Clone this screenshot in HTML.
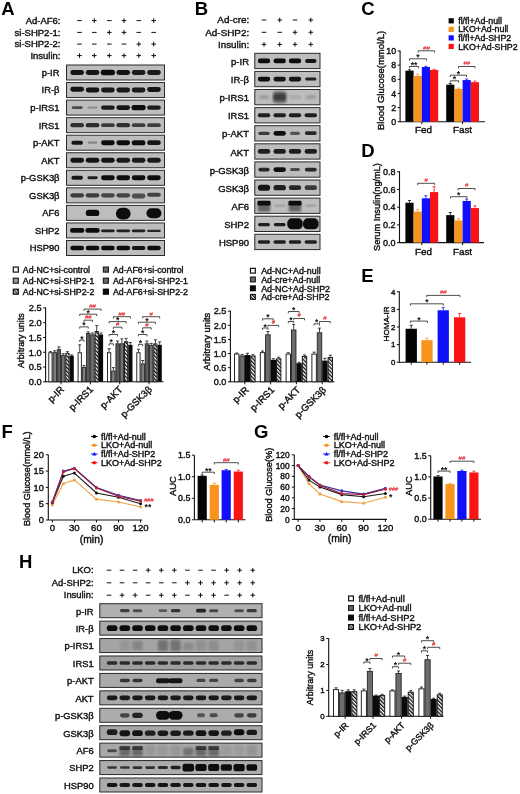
<!DOCTYPE html>
<html><head><meta charset="utf-8"><title>Figure</title>
<style>
html,body{margin:0;padding:0;background:#fff;}
body{width:520px;height:794px;overflow:hidden;position:relative;}
svg{position:absolute;left:0;top:0;display:block;}
text{font-family:"Liberation Sans", Arial, sans-serif;}
</style></head><body>
<svg width="520" height="794" viewBox="0 0 520 794">
<defs>
<filter id="bl" x="-50%" y="-80%" width="200%" height="260%"><feGaussianBlur stdDeviation="0.65"/></filter>
<filter id="bl2" x="-50%" y="-80%" width="200%" height="260%"><feGaussianBlur stdDeviation="1.3"/></filter>
<pattern id="hatch" patternUnits="userSpaceOnUse" width="2.7" height="2.7" patternTransform="rotate(-45)">
<rect width="2.7" height="2.7" fill="#fff"/><rect width="1.35" height="2.7" fill="#111"/></pattern>
<pattern id="hatch2" patternUnits="userSpaceOnUse" width="2.2" height="2.2" patternTransform="rotate(-45)">
<rect width="2.2" height="2.2" fill="#fff"/><rect width="1.1" height="2.2" fill="#111"/></pattern>
</defs>
<rect width="520" height="794" fill="#fff"/>
<text x="1.2" y="14.6" font-size="18.5" text-anchor="start" font-weight="bold" fill="#000" stroke="#000" stroke-width="0">A</text>
<text x="60.5" y="23.8" font-size="9.5" text-anchor="end" font-weight="normal" fill="#111" stroke="#111" stroke-width="0.4">Ad-AF6:</text>
<line x1="77.2" y1="20.6" x2="81.8" y2="20.6" stroke="#111" stroke-width="1"/>
<line x1="92" y1="20.6" x2="96.6" y2="20.6" stroke="#111" stroke-width="1"/>
<line x1="94.3" y1="18.3" x2="94.3" y2="22.9" stroke="#111" stroke-width="1"/>
<line x1="107" y1="20.6" x2="111.6" y2="20.6" stroke="#111" stroke-width="1"/>
<line x1="121.7" y1="20.6" x2="126.3" y2="20.6" stroke="#111" stroke-width="1"/>
<line x1="124" y1="18.3" x2="124" y2="22.9" stroke="#111" stroke-width="1"/>
<line x1="136.5" y1="20.6" x2="141.1" y2="20.6" stroke="#111" stroke-width="1"/>
<line x1="151.4" y1="20.6" x2="156" y2="20.6" stroke="#111" stroke-width="1"/>
<line x1="153.7" y1="18.3" x2="153.7" y2="22.9" stroke="#111" stroke-width="1"/>
<text x="60.5" y="35.6" font-size="9.5" text-anchor="end" font-weight="normal" fill="#111" stroke="#111" stroke-width="0.4">si-SHP2-1:</text>
<line x1="77.2" y1="32.4" x2="81.8" y2="32.4" stroke="#111" stroke-width="1"/>
<line x1="92" y1="32.4" x2="96.6" y2="32.4" stroke="#111" stroke-width="1"/>
<line x1="107" y1="32.4" x2="111.6" y2="32.4" stroke="#111" stroke-width="1"/>
<line x1="109.3" y1="30.1" x2="109.3" y2="34.7" stroke="#111" stroke-width="1"/>
<line x1="121.7" y1="32.4" x2="126.3" y2="32.4" stroke="#111" stroke-width="1"/>
<line x1="124" y1="30.1" x2="124" y2="34.7" stroke="#111" stroke-width="1"/>
<line x1="136.5" y1="32.4" x2="141.1" y2="32.4" stroke="#111" stroke-width="1"/>
<line x1="151.4" y1="32.4" x2="156" y2="32.4" stroke="#111" stroke-width="1"/>
<text x="60.5" y="47.3" font-size="9.5" text-anchor="end" font-weight="normal" fill="#111" stroke="#111" stroke-width="0.4">si-SHP2-2:</text>
<line x1="77.2" y1="44.1" x2="81.8" y2="44.1" stroke="#111" stroke-width="1"/>
<line x1="92" y1="44.1" x2="96.6" y2="44.1" stroke="#111" stroke-width="1"/>
<line x1="107" y1="44.1" x2="111.6" y2="44.1" stroke="#111" stroke-width="1"/>
<line x1="121.7" y1="44.1" x2="126.3" y2="44.1" stroke="#111" stroke-width="1"/>
<line x1="136.5" y1="44.1" x2="141.1" y2="44.1" stroke="#111" stroke-width="1"/>
<line x1="138.8" y1="41.8" x2="138.8" y2="46.4" stroke="#111" stroke-width="1"/>
<line x1="151.4" y1="44.1" x2="156" y2="44.1" stroke="#111" stroke-width="1"/>
<line x1="153.7" y1="41.8" x2="153.7" y2="46.4" stroke="#111" stroke-width="1"/>
<text x="60.5" y="58.8" font-size="9.5" text-anchor="end" font-weight="normal" fill="#111" stroke="#111" stroke-width="0.4">Insulin:</text>
<line x1="77.2" y1="55.6" x2="81.8" y2="55.6" stroke="#111" stroke-width="1"/>
<line x1="79.5" y1="53.3" x2="79.5" y2="57.9" stroke="#111" stroke-width="1"/>
<line x1="92" y1="55.6" x2="96.6" y2="55.6" stroke="#111" stroke-width="1"/>
<line x1="94.3" y1="53.3" x2="94.3" y2="57.9" stroke="#111" stroke-width="1"/>
<line x1="107" y1="55.6" x2="111.6" y2="55.6" stroke="#111" stroke-width="1"/>
<line x1="109.3" y1="53.3" x2="109.3" y2="57.9" stroke="#111" stroke-width="1"/>
<line x1="121.7" y1="55.6" x2="126.3" y2="55.6" stroke="#111" stroke-width="1"/>
<line x1="124" y1="53.3" x2="124" y2="57.9" stroke="#111" stroke-width="1"/>
<line x1="136.5" y1="55.6" x2="141.1" y2="55.6" stroke="#111" stroke-width="1"/>
<line x1="138.8" y1="53.3" x2="138.8" y2="57.9" stroke="#111" stroke-width="1"/>
<line x1="151.4" y1="55.6" x2="156" y2="55.6" stroke="#111" stroke-width="1"/>
<line x1="153.7" y1="53.3" x2="153.7" y2="57.9" stroke="#111" stroke-width="1"/>
<rect x="66.5" y="65" width="98" height="15" fill="#bdbdbd" stroke="#2a2a2a" stroke-width="1"/>
<rect x="70.4" y="70.05" width="13.6" height="4.9" rx="2.45" fill="#0a0a0a" opacity="0.95" filter="url(#bl)"/>
<rect x="85.75" y="70.05" width="13.6" height="4.9" rx="2.45" fill="#0a0a0a" opacity="0.95" filter="url(#bl)"/>
<rect x="100.76" y="69.81" width="14.28" height="5.39" rx="2.7" fill="#0a0a0a" opacity="1" filter="url(#bl)"/>
<rect x="116.45" y="70.05" width="13.6" height="4.9" rx="2.45" fill="#0a0a0a" opacity="0.95" filter="url(#bl)"/>
<rect x="131.8" y="70.05" width="13.6" height="4.9" rx="2.45" fill="#0a0a0a" opacity="0.92" filter="url(#bl)"/>
<rect x="147.15" y="70.05" width="13.6" height="4.9" rx="2.45" fill="#0a0a0a" opacity="0.92" filter="url(#bl)"/>
<text x="59.5" y="75.9" font-size="9.4" text-anchor="end" font-weight="normal" fill="#111" stroke="#111" stroke-width="0.4">p-IR</text>
<rect x="66.5" y="82.55" width="98" height="15" fill="#bdbdbd" stroke="#2a2a2a" stroke-width="1"/>
<rect x="70.4" y="86.8" width="13.6" height="4.9" rx="2.45" fill="#0a0a0a" opacity="0.95" filter="url(#bl)"/>
<rect x="85.75" y="87.6" width="13.6" height="4.9" rx="2.45" fill="#0a0a0a" opacity="0.95" filter="url(#bl)"/>
<rect x="101.1" y="87.6" width="13.6" height="4.9" rx="2.45" fill="#0a0a0a" opacity="0.92" filter="url(#bl)"/>
<rect x="116.45" y="87.6" width="13.6" height="4.9" rx="2.45" fill="#0a0a0a" opacity="0.92" filter="url(#bl)"/>
<rect x="131.8" y="87.6" width="13.6" height="4.9" rx="2.45" fill="#0a0a0a" opacity="0.92" filter="url(#bl)"/>
<rect x="147.15" y="87" width="13.6" height="4.9" rx="2.45" fill="#0a0a0a" opacity="0.95" filter="url(#bl)"/>
<text x="59.5" y="93.45" font-size="9.4" text-anchor="end" font-weight="normal" fill="#111" stroke="#111" stroke-width="0.4">IR-β</text>
<rect x="66.5" y="100.1" width="98" height="15" fill="#bdbdbd" stroke="#2a2a2a" stroke-width="1"/>
<rect x="71.76" y="106.25" width="10.88" height="2.7" rx="1.35" fill="#0a0a0a" opacity="0.65" filter="url(#bl)"/>
<rect x="87.45" y="106.5" width="10.2" height="2.21" rx="1.1" fill="#0a0a0a" opacity="0.25" filter="url(#bl)"/>
<rect x="101.1" y="105.39" width="13.6" height="4.41" rx="2.21" fill="#0a0a0a" opacity="0.92" filter="url(#bl)"/>
<rect x="116.45" y="105.27" width="13.6" height="4.66" rx="2.33" fill="#0a0a0a" opacity="0.95" filter="url(#bl)"/>
<rect x="131.46" y="105.03" width="14.28" height="5.15" rx="2.57" fill="#0a0a0a" opacity="1" filter="url(#bl)"/>
<rect x="147.15" y="105.39" width="13.6" height="4.41" rx="2.21" fill="#0a0a0a" opacity="0.92" filter="url(#bl)"/>
<text x="59.5" y="111" font-size="9.4" text-anchor="end" font-weight="normal" fill="#111" stroke="#111" stroke-width="0.4">p-IRS1</text>
<rect x="66.5" y="117.65" width="98" height="15" fill="#bdbdbd" stroke="#2a2a2a" stroke-width="1"/>
<rect x="70.4" y="123.07" width="13.6" height="4.17" rx="2.08" fill="#0a0a0a" opacity="0.8" filter="url(#bl)"/>
<rect x="85.75" y="122.95" width="13.6" height="4.41" rx="2.21" fill="#0a0a0a" opacity="0.82" filter="url(#bl)"/>
<rect x="101.1" y="123.19" width="13.6" height="3.92" rx="1.96" fill="#0a0a0a" opacity="0.75" filter="url(#bl)"/>
<rect x="116.45" y="123.07" width="13.6" height="4.17" rx="2.08" fill="#0a0a0a" opacity="0.8" filter="url(#bl)"/>
<rect x="131.8" y="123.19" width="13.6" height="3.92" rx="1.96" fill="#0a0a0a" opacity="0.72" filter="url(#bl)"/>
<rect x="147.15" y="123.19" width="13.6" height="3.92" rx="1.96" fill="#0a0a0a" opacity="0.72" filter="url(#bl)"/>
<text x="59.5" y="128.55" font-size="9.4" text-anchor="end" font-weight="normal" fill="#111" stroke="#111" stroke-width="0.4">IRS1</text>
<rect x="66.5" y="135.2" width="98" height="15" fill="#bdbdbd" stroke="#2a2a2a" stroke-width="1"/>
<rect x="71.42" y="140.74" width="11.56" height="3.92" rx="1.96" fill="#0a0a0a" opacity="0.95" filter="url(#bl)"/>
<rect x="87.79" y="141.6" width="9.52" height="2.21" rx="1.1" fill="#0a0a0a" opacity="0.3" filter="url(#bl)"/>
<rect x="101.1" y="140.25" width="13.6" height="4.9" rx="2.45" fill="#0a0a0a" opacity="1" filter="url(#bl)"/>
<rect x="116.45" y="140.25" width="13.6" height="4.9" rx="2.45" fill="#0a0a0a" opacity="1" filter="url(#bl)"/>
<rect x="131.8" y="140.13" width="13.6" height="5.15" rx="2.57" fill="#0a0a0a" opacity="1" filter="url(#bl)"/>
<rect x="147.15" y="140.37" width="13.6" height="4.66" rx="2.33" fill="#0a0a0a" opacity="0.95" filter="url(#bl)"/>
<text x="59.5" y="146.1" font-size="9.4" text-anchor="end" font-weight="normal" fill="#111" stroke="#111" stroke-width="0.4">p-AKT</text>
<rect x="66.5" y="152.75" width="98" height="15" fill="#bdbdbd" stroke="#2a2a2a" stroke-width="1"/>
<rect x="70.4" y="157.8" width="13.6" height="4.9" rx="2.45" fill="#0a0a0a" opacity="0.95" filter="url(#bl)"/>
<rect x="85.75" y="157.8" width="13.6" height="4.9" rx="2.45" fill="#0a0a0a" opacity="0.95" filter="url(#bl)"/>
<rect x="101.1" y="157.8" width="13.6" height="4.9" rx="2.45" fill="#0a0a0a" opacity="0.95" filter="url(#bl)"/>
<rect x="116.45" y="157.8" width="13.6" height="4.9" rx="2.45" fill="#0a0a0a" opacity="0.92" filter="url(#bl)"/>
<rect x="131.8" y="157.8" width="13.6" height="4.9" rx="2.45" fill="#0a0a0a" opacity="0.92" filter="url(#bl)"/>
<rect x="147.15" y="157.8" width="13.6" height="4.9" rx="2.45" fill="#0a0a0a" opacity="0.92" filter="url(#bl)"/>
<text x="59.5" y="163.65" font-size="9.4" text-anchor="end" font-weight="normal" fill="#111" stroke="#111" stroke-width="0.4">AKT</text>
<rect x="66.5" y="170.3" width="98" height="15" fill="#bdbdbd" stroke="#2a2a2a" stroke-width="1"/>
<rect x="71.42" y="175.84" width="11.56" height="3.92" rx="1.96" fill="#0a0a0a" opacity="0.95" filter="url(#bl)"/>
<rect x="87.45" y="176.33" width="10.2" height="2.94" rx="1.47" fill="#0a0a0a" opacity="0.9" filter="url(#bl)"/>
<rect x="101.1" y="175.35" width="13.6" height="4.9" rx="2.45" fill="#0a0a0a" opacity="1" filter="url(#bl)"/>
<rect x="116.45" y="175.35" width="13.6" height="4.9" rx="2.45" fill="#0a0a0a" opacity="1" filter="url(#bl)"/>
<rect x="131.8" y="175.35" width="13.6" height="4.9" rx="2.45" fill="#0a0a0a" opacity="1" filter="url(#bl)"/>
<rect x="147.15" y="175.35" width="13.6" height="4.9" rx="2.45" fill="#0a0a0a" opacity="1" filter="url(#bl)"/>
<text x="59.5" y="181.2" font-size="9.4" text-anchor="end" font-weight="normal" fill="#111" stroke="#111" stroke-width="0.4">p-GSK3β</text>
<rect x="66.5" y="187.85" width="98" height="15" fill="#bdbdbd" stroke="#2a2a2a" stroke-width="1"/>
<rect x="70.4" y="193.27" width="13.6" height="4.17" rx="2.08" fill="#0a0a0a" opacity="0.72" filter="url(#bl)"/>
<rect x="85.75" y="193.27" width="13.6" height="4.17" rx="2.08" fill="#0a0a0a" opacity="0.72" filter="url(#bl)"/>
<rect x="101.1" y="193.27" width="13.6" height="4.17" rx="2.08" fill="#0a0a0a" opacity="0.68" filter="url(#bl)"/>
<rect x="116.45" y="193.27" width="13.6" height="4.17" rx="2.08" fill="#0a0a0a" opacity="0.68" filter="url(#bl)"/>
<rect x="131.8" y="193.5" width="13.6" height="4.9" rx="2.45" fill="#0a0a0a" opacity="0.62" filter="url(#bl)"/>
<rect x="147.15" y="192.67" width="13.6" height="4.17" rx="2.08" fill="#0a0a0a" opacity="0.7" filter="url(#bl)"/>
<text x="59.5" y="198.75" font-size="9.4" text-anchor="end" font-weight="normal" fill="#111" stroke="#111" stroke-width="0.4">GSK3β</text>
<rect x="66.5" y="205.4" width="98" height="15" fill="#bdbdbd" stroke="#2a2a2a" stroke-width="1"/>
<rect x="85.75" y="209.72" width="13.6" height="6.37" rx="3.19" fill="#0a0a0a" opacity="1" filter="url(#bl)"/>
<rect x="115.91" y="207.82" width="14.69" height="11.76" rx="5.88" fill="#0a0a0a" opacity="1" filter="url(#bl)"/>
<rect x="146.47" y="208.18" width="14.96" height="10.04" rx="5.02" fill="#0a0a0a" opacity="1" filter="url(#bl)"/>
<text x="59.5" y="216.3" font-size="9.4" text-anchor="end" font-weight="normal" fill="#111" stroke="#111" stroke-width="0.4">AF6</text>
<rect x="66.5" y="222.95" width="98" height="15" fill="#bdbdbd" stroke="#2a2a2a" stroke-width="1"/>
<rect x="70.06" y="228.12" width="14.28" height="4.66" rx="2.33" fill="#0a0a0a" opacity="1" filter="url(#bl)"/>
<rect x="85.41" y="228.12" width="14.28" height="4.66" rx="2.33" fill="#0a0a0a" opacity="1" filter="url(#bl)"/>
<rect x="101.1" y="229.38" width="13.6" height="2.94" rx="1.47" fill="#0a0a0a" opacity="0.9" filter="url(#bl)"/>
<rect x="116.45" y="229.5" width="13.6" height="2.7" rx="1.35" fill="#0a0a0a" opacity="0.88" filter="url(#bl)"/>
<rect x="131.8" y="229.5" width="13.6" height="2.7" rx="1.35" fill="#0a0a0a" opacity="0.88" filter="url(#bl)"/>
<rect x="147.15" y="229.63" width="13.6" height="2.45" rx="1.23" fill="#0a0a0a" opacity="0.85" filter="url(#bl)"/>
<text x="59.5" y="233.85" font-size="9.4" text-anchor="end" font-weight="normal" fill="#111" stroke="#111" stroke-width="0.4">SHP2</text>
<rect x="66.5" y="240.5" width="98" height="15" fill="#bdbdbd" stroke="#2a2a2a" stroke-width="1"/>
<rect x="70.4" y="245.79" width="13.6" height="4.41" rx="2.21" fill="#0a0a0a" opacity="1" filter="url(#bl)"/>
<rect x="85.75" y="245.79" width="13.6" height="4.41" rx="2.21" fill="#0a0a0a" opacity="1" filter="url(#bl)"/>
<rect x="101.1" y="245.79" width="13.6" height="4.41" rx="2.21" fill="#0a0a0a" opacity="1" filter="url(#bl)"/>
<rect x="116.45" y="245.79" width="13.6" height="4.41" rx="2.21" fill="#0a0a0a" opacity="1" filter="url(#bl)"/>
<rect x="131.8" y="245.92" width="13.6" height="4.17" rx="2.08" fill="#0a0a0a" opacity="0.95" filter="url(#bl)"/>
<rect x="147.15" y="245.79" width="13.6" height="4.41" rx="2.21" fill="#0a0a0a" opacity="1" filter="url(#bl)"/>
<text x="59.5" y="251.4" font-size="9.4" text-anchor="end" font-weight="normal" fill="#111" stroke="#111" stroke-width="0.4">HSP90</text>
<rect x="13.3" y="267.1" width="5" height="5" fill="#fff" stroke="#111" stroke-width="1.2"/>
<text x="22.8" y="272.8" font-size="8.8" text-anchor="start" font-weight="normal" fill="#111" stroke="#111" stroke-width="0.4">Ad-NC+si-control</text>
<rect x="13.3" y="278.2" width="5" height="5" fill="#9a9a9a" stroke="#222" stroke-width="1.2"/>
<text x="22.8" y="283.9" font-size="8.8" text-anchor="start" font-weight="normal" fill="#111" stroke="#111" stroke-width="0.4">Ad-NC+si-SHP2-1</text>
<rect x="13.3" y="289.2" width="5" height="5" fill="url(#hatch2)" stroke="#111" stroke-width="1.2"/>
<text x="22.8" y="294.9" font-size="8.8" text-anchor="start" font-weight="normal" fill="#111" stroke="#111" stroke-width="0.4">Ad-NC+si-SHP2-2</text>
<rect x="103.4" y="267.1" width="5" height="5" fill="#6c6c6c" stroke="#222" stroke-width="1.2"/>
<text x="112.9" y="272.8" font-size="8.8" text-anchor="start" font-weight="normal" fill="#111" stroke="#111" stroke-width="0.4">Ad-AF6+si-control</text>
<rect x="103.4" y="278.2" width="5" height="5" fill="#6a6a6a" stroke="#222" stroke-width="1.2"/>
<text x="112.9" y="283.9" font-size="8.8" text-anchor="start" font-weight="normal" fill="#111" stroke="#111" stroke-width="0.4">Ad-AF6+si-SHP2-1</text>
<rect x="102.8" y="288.6" width="6.2" height="6.2" fill="#0a0a0a" stroke="none" stroke-width="1"/>
<text x="112.9" y="294.9" font-size="8.8" text-anchor="start" font-weight="normal" fill="#111" stroke="#111" stroke-width="0.4">Ad-AF6+si-SHP2-2</text>
<line x1="45.6" y1="382.3" x2="45.6" y2="307.4" stroke="#111" stroke-width="1.1"/>
<line x1="43.1" y1="381.8" x2="45.6" y2="381.8" stroke="#111" stroke-width="1"/>
<text x="41.6" y="385.13" font-size="9.25" text-anchor="end" font-weight="normal" fill="#111" stroke="#111" stroke-width="0.4">0.0</text>
<line x1="43.1" y1="367.02" x2="45.6" y2="367.02" stroke="#111" stroke-width="1"/>
<text x="41.6" y="370.35" font-size="9.25" text-anchor="end" font-weight="normal" fill="#111" stroke="#111" stroke-width="0.4">0.5</text>
<line x1="43.1" y1="352.24" x2="45.6" y2="352.24" stroke="#111" stroke-width="1"/>
<text x="41.6" y="355.57" font-size="9.25" text-anchor="end" font-weight="normal" fill="#111" stroke="#111" stroke-width="0.4">1.0</text>
<line x1="43.1" y1="337.46" x2="45.6" y2="337.46" stroke="#111" stroke-width="1"/>
<text x="41.6" y="340.79" font-size="9.25" text-anchor="end" font-weight="normal" fill="#111" stroke="#111" stroke-width="0.4">1.5</text>
<line x1="43.1" y1="322.68" x2="45.6" y2="322.68" stroke="#111" stroke-width="1"/>
<text x="41.6" y="326.01" font-size="9.25" text-anchor="end" font-weight="normal" fill="#111" stroke="#111" stroke-width="0.4">2.0</text>
<line x1="43.1" y1="307.9" x2="45.6" y2="307.9" stroke="#111" stroke-width="1"/>
<text x="41.6" y="311.23" font-size="9.25" text-anchor="end" font-weight="normal" fill="#111" stroke="#111" stroke-width="0.4">2.5</text>
<line x1="45.6" y1="381.8" x2="163.5" y2="381.8" stroke="#111" stroke-width="1.1"/>
<text x="24" y="340.7" font-size="8.9" text-anchor="middle" font-weight="normal" fill="#111" stroke="#111" stroke-width="0.4" transform="rotate(-90 24 340.7)">Arbitrary units</text>
<line x1="50.42" y1="352.24" x2="50.42" y2="351.65" stroke="#111" stroke-width="0.8"/>
<line x1="48.92" y1="351.65" x2="51.92" y2="351.65" stroke="#111" stroke-width="0.8"/>
<rect x="48.8" y="352.74" width="3.25" height="29.06" fill="#fff" stroke="#111" stroke-width="0.9"/>
<line x1="54.67" y1="352.24" x2="54.67" y2="350.76" stroke="#111" stroke-width="0.8"/>
<line x1="53.17" y1="350.76" x2="56.17" y2="350.76" stroke="#111" stroke-width="0.8"/>
<rect x="52.95" y="352.64" width="3.45" height="29.16" fill="#7c7c7c" stroke="#1a1a1a" stroke-width="0.8"/>
<line x1="58.92" y1="349.28" x2="58.92" y2="346.92" stroke="#111" stroke-width="0.8"/>
<line x1="57.42" y1="346.92" x2="60.42" y2="346.92" stroke="#111" stroke-width="0.8"/>
<rect x="57.2" y="349.68" width="3.45" height="32.12" fill="#5c5c5c" stroke="#1a1a1a" stroke-width="0.8"/>
<line x1="63.17" y1="355.2" x2="63.17" y2="353.72" stroke="#111" stroke-width="0.8"/>
<line x1="61.67" y1="353.72" x2="64.67" y2="353.72" stroke="#111" stroke-width="0.8"/>
<rect x="61.45" y="355.6" width="3.45" height="26.2" fill="#727272" stroke="#1a1a1a" stroke-width="0.8"/>
<line x1="67.42" y1="352.83" x2="67.42" y2="351.65" stroke="#111" stroke-width="0.8"/>
<line x1="65.92" y1="351.65" x2="68.92" y2="351.65" stroke="#111" stroke-width="0.8"/>
<rect x="65.8" y="353.33" width="3.25" height="28.47" fill="url(#hatch)" stroke="#111" stroke-width="0.9"/>
<line x1="71.67" y1="355.79" x2="71.67" y2="354.9" stroke="#111" stroke-width="0.8"/>
<line x1="70.17" y1="354.9" x2="73.17" y2="354.9" stroke="#111" stroke-width="0.8"/>
<rect x="69.55" y="355.79" width="4.25" height="26.01" fill="#0a0a0a" stroke="none" stroke-width="1"/>
<line x1="61.05" y1="381.8" x2="61.05" y2="384.3" stroke="#111" stroke-width="1"/>
<line x1="79.72" y1="352.24" x2="79.72" y2="344.85" stroke="#111" stroke-width="0.8"/>
<line x1="78.22" y1="344.85" x2="81.22" y2="344.85" stroke="#111" stroke-width="0.8"/>
<rect x="78.1" y="352.74" width="3.25" height="29.06" fill="#fff" stroke="#111" stroke-width="0.9"/>
<line x1="83.97" y1="367.02" x2="83.97" y2="365.54" stroke="#111" stroke-width="0.8"/>
<line x1="82.47" y1="365.54" x2="85.47" y2="365.54" stroke="#111" stroke-width="0.8"/>
<rect x="82.25" y="367.42" width="3.45" height="14.38" fill="#7c7c7c" stroke="#1a1a1a" stroke-width="0.8"/>
<line x1="88.22" y1="333.03" x2="88.22" y2="331.84" stroke="#111" stroke-width="0.8"/>
<line x1="86.72" y1="331.84" x2="89.72" y2="331.84" stroke="#111" stroke-width="0.8"/>
<rect x="86.5" y="333.43" width="3.45" height="48.37" fill="#5c5c5c" stroke="#1a1a1a" stroke-width="0.8"/>
<line x1="92.47" y1="334.5" x2="92.47" y2="333.03" stroke="#111" stroke-width="0.8"/>
<line x1="90.97" y1="333.03" x2="93.97" y2="333.03" stroke="#111" stroke-width="0.8"/>
<rect x="90.75" y="334.9" width="3.45" height="46.9" fill="#727272" stroke="#1a1a1a" stroke-width="0.8"/>
<line x1="96.72" y1="330.96" x2="96.72" y2="325.64" stroke="#111" stroke-width="0.8"/>
<line x1="95.22" y1="325.64" x2="98.22" y2="325.64" stroke="#111" stroke-width="0.8"/>
<rect x="95.1" y="331.46" width="3.25" height="50.34" fill="url(#hatch)" stroke="#111" stroke-width="0.9"/>
<line x1="100.97" y1="334.5" x2="100.97" y2="333.03" stroke="#111" stroke-width="0.8"/>
<line x1="99.47" y1="333.03" x2="102.47" y2="333.03" stroke="#111" stroke-width="0.8"/>
<rect x="98.85" y="334.5" width="4.25" height="47.3" fill="#0a0a0a" stroke="none" stroke-width="1"/>
<line x1="90.35" y1="381.8" x2="90.35" y2="384.3" stroke="#111" stroke-width="1"/>
<line x1="109.12" y1="352.24" x2="109.12" y2="348.69" stroke="#111" stroke-width="0.8"/>
<line x1="107.62" y1="348.69" x2="110.62" y2="348.69" stroke="#111" stroke-width="0.8"/>
<rect x="107.5" y="352.74" width="3.25" height="29.06" fill="#fff" stroke="#111" stroke-width="0.9"/>
<line x1="113.38" y1="370.57" x2="113.38" y2="367.61" stroke="#111" stroke-width="0.8"/>
<line x1="111.88" y1="367.61" x2="114.88" y2="367.61" stroke="#111" stroke-width="0.8"/>
<rect x="111.65" y="370.97" width="3.45" height="10.83" fill="#7c7c7c" stroke="#1a1a1a" stroke-width="0.8"/>
<line x1="117.62" y1="343.37" x2="117.62" y2="341.01" stroke="#111" stroke-width="0.8"/>
<line x1="116.12" y1="341.01" x2="119.12" y2="341.01" stroke="#111" stroke-width="0.8"/>
<rect x="115.9" y="343.77" width="3.45" height="38.03" fill="#5c5c5c" stroke="#1a1a1a" stroke-width="0.8"/>
<line x1="121.88" y1="343.37" x2="121.88" y2="338.94" stroke="#111" stroke-width="0.8"/>
<line x1="120.38" y1="338.94" x2="123.38" y2="338.94" stroke="#111" stroke-width="0.8"/>
<rect x="120.15" y="343.77" width="3.45" height="38.03" fill="#727272" stroke="#1a1a1a" stroke-width="0.8"/>
<line x1="126.12" y1="341.3" x2="126.12" y2="338.35" stroke="#111" stroke-width="0.8"/>
<line x1="124.62" y1="338.35" x2="127.62" y2="338.35" stroke="#111" stroke-width="0.8"/>
<rect x="124.5" y="341.8" width="3.25" height="40" fill="url(#hatch)" stroke="#111" stroke-width="0.9"/>
<line x1="130.38" y1="344.85" x2="130.38" y2="342.49" stroke="#111" stroke-width="0.8"/>
<line x1="128.88" y1="342.49" x2="131.88" y2="342.49" stroke="#111" stroke-width="0.8"/>
<rect x="128.25" y="344.85" width="4.25" height="36.95" fill="#0a0a0a" stroke="none" stroke-width="1"/>
<line x1="119.75" y1="381.8" x2="119.75" y2="384.3" stroke="#111" stroke-width="1"/>
<line x1="138.43" y1="352.24" x2="138.43" y2="349.28" stroke="#111" stroke-width="0.8"/>
<line x1="136.93" y1="349.28" x2="139.93" y2="349.28" stroke="#111" stroke-width="0.8"/>
<rect x="136.8" y="352.74" width="3.25" height="29.06" fill="#fff" stroke="#111" stroke-width="0.9"/>
<line x1="142.68" y1="363.47" x2="142.68" y2="360.52" stroke="#111" stroke-width="0.8"/>
<line x1="141.18" y1="360.52" x2="144.18" y2="360.52" stroke="#111" stroke-width="0.8"/>
<rect x="140.95" y="363.87" width="3.45" height="17.93" fill="#7c7c7c" stroke="#1a1a1a" stroke-width="0.8"/>
<line x1="146.93" y1="343.37" x2="146.93" y2="341.01" stroke="#111" stroke-width="0.8"/>
<line x1="145.43" y1="341.01" x2="148.43" y2="341.01" stroke="#111" stroke-width="0.8"/>
<rect x="145.2" y="343.77" width="3.45" height="38.03" fill="#5c5c5c" stroke="#1a1a1a" stroke-width="0.8"/>
<line x1="151.18" y1="344.85" x2="151.18" y2="343.37" stroke="#111" stroke-width="0.8"/>
<line x1="149.68" y1="343.37" x2="152.68" y2="343.37" stroke="#111" stroke-width="0.8"/>
<rect x="149.45" y="345.25" width="3.45" height="36.55" fill="#727272" stroke="#1a1a1a" stroke-width="0.8"/>
<line x1="155.43" y1="343.37" x2="155.43" y2="339.82" stroke="#111" stroke-width="0.8"/>
<line x1="153.93" y1="339.82" x2="156.93" y2="339.82" stroke="#111" stroke-width="0.8"/>
<rect x="153.8" y="343.87" width="3.25" height="37.93" fill="url(#hatch)" stroke="#111" stroke-width="0.9"/>
<line x1="159.68" y1="344.85" x2="159.68" y2="341.89" stroke="#111" stroke-width="0.8"/>
<line x1="158.18" y1="341.89" x2="161.18" y2="341.89" stroke="#111" stroke-width="0.8"/>
<rect x="157.55" y="344.85" width="4.25" height="36.95" fill="#0a0a0a" stroke="none" stroke-width="1"/>
<line x1="149.05" y1="381.8" x2="149.05" y2="384.3" stroke="#111" stroke-width="1"/>
<text x="64.55" y="390.1" font-size="9.6" text-anchor="end" font-weight="normal" fill="#111" stroke="#111" stroke-width="0.4" transform="rotate(-45 64.55 390.1)">p-IR</text>
<text x="93.85" y="390.1" font-size="9.6" text-anchor="end" font-weight="normal" fill="#111" stroke="#111" stroke-width="0.4" transform="rotate(-45 93.85 390.1)">p-IRS1</text>
<text x="123.25" y="390.1" font-size="9.6" text-anchor="end" font-weight="normal" fill="#111" stroke="#111" stroke-width="0.4" transform="rotate(-45 123.25 390.1)">p-AKT</text>
<text x="152.55" y="390.1" font-size="9.6" text-anchor="end" font-weight="normal" fill="#111" stroke="#111" stroke-width="0.4" transform="rotate(-45 152.55 390.1)">p-GSK3β</text>
<path d="M79.72 341.8 V340 H83.97 V341.8" stroke="#222" stroke-width="0.8" fill="none"/>
<text x="81.85" y="341.5" font-size="8.6" text-anchor="middle" font-weight="bold" fill="#111" stroke="#111" stroke-width="0">*</text>
<path d="M79.72 328.7 V326.9 H88.22 V328.7" stroke="#222" stroke-width="0.8" fill="none"/>
<text x="83.97" y="328.4" font-size="8.6" text-anchor="middle" font-weight="bold" fill="#111" stroke="#111" stroke-width="0">*</text>
<path d="M83.97 322 V320.2 H92.47 V322" stroke="#222" stroke-width="0.8" fill="none"/>
<text x="88.22" y="319" font-size="6" text-anchor="middle" font-weight="normal" fill="#e8383c" stroke="#e8383c" stroke-width="0.15">##</text>
<path d="M79.72 316 V314.2 H96.72 V316" stroke="#222" stroke-width="0.8" fill="none"/>
<text x="88.22" y="315.7" font-size="8.6" text-anchor="middle" font-weight="bold" fill="#111" stroke="#111" stroke-width="0">*</text>
<path d="M83.97 310.9 V309.1 H100.97 V310.9" stroke="#222" stroke-width="0.8" fill="none"/>
<text x="92.47" y="307.9" font-size="6" text-anchor="middle" font-weight="normal" fill="#e8383c" stroke="#e8383c" stroke-width="0.15">##</text>
<path d="M109.12 345.6 V343.8 H113.38 V345.6" stroke="#222" stroke-width="0.8" fill="none"/>
<text x="111.25" y="345.3" font-size="8.6" text-anchor="middle" font-weight="bold" fill="#111" stroke="#111" stroke-width="0">*</text>
<path d="M109.12 336.3 V334.5 H117.62 V336.3" stroke="#222" stroke-width="0.8" fill="none"/>
<text x="113.38" y="336" font-size="8.6" text-anchor="middle" font-weight="bold" fill="#111" stroke="#111" stroke-width="0">*</text>
<path d="M113.38 329 V327.2 H121.88 V329" stroke="#222" stroke-width="0.8" fill="none"/>
<text x="117.62" y="326" font-size="6" text-anchor="middle" font-weight="normal" fill="#e8383c" stroke="#e8383c" stroke-width="0.15">#</text>
<path d="M109.12 323.4 V321.6 H126.12 V323.4" stroke="#222" stroke-width="0.8" fill="none"/>
<text x="117.62" y="323.1" font-size="8.6" text-anchor="middle" font-weight="bold" fill="#111" stroke="#111" stroke-width="0">*</text>
<path d="M113.38 318.5 V316.7 H130.38 V318.5" stroke="#222" stroke-width="0.8" fill="none"/>
<text x="121.88" y="315.5" font-size="6" text-anchor="middle" font-weight="normal" fill="#e8383c" stroke="#e8383c" stroke-width="0.15">##</text>
<path d="M138.43 346.2 V344.4 H142.68 V346.2" stroke="#222" stroke-width="0.8" fill="none"/>
<text x="140.55" y="345.9" font-size="8.6" text-anchor="middle" font-weight="bold" fill="#111" stroke="#111" stroke-width="0">*</text>
<path d="M138.43 336.3 V334.5 H146.93 V336.3" stroke="#222" stroke-width="0.8" fill="none"/>
<text x="142.68" y="336" font-size="8.6" text-anchor="middle" font-weight="bold" fill="#111" stroke="#111" stroke-width="0">*</text>
<path d="M142.68 329.6 V327.8 H151.18 V329.6" stroke="#222" stroke-width="0.8" fill="none"/>
<text x="146.93" y="326.6" font-size="6" text-anchor="middle" font-weight="normal" fill="#e8383c" stroke="#e8383c" stroke-width="0.15">#</text>
<path d="M138.43 324 V322.2 H155.43 V324" stroke="#222" stroke-width="0.8" fill="none"/>
<text x="146.93" y="323.7" font-size="8.6" text-anchor="middle" font-weight="bold" fill="#111" stroke="#111" stroke-width="0">*</text>
<path d="M142.68 318.5 V316.7 H159.68 V318.5" stroke="#222" stroke-width="0.8" fill="none"/>
<text x="151.18" y="315.5" font-size="6" text-anchor="middle" font-weight="normal" fill="#e8383c" stroke="#e8383c" stroke-width="0.15">#</text>
<text x="194.8" y="14.6" font-size="18.5" text-anchor="start" font-weight="bold" fill="#000" stroke="#000" stroke-width="0">B</text>
<text x="249.2" y="23.2" font-size="9.9" text-anchor="end" font-weight="normal" fill="#111" stroke="#111" stroke-width="0.4">Ad-cre:</text>
<line x1="261.7" y1="20" x2="266.3" y2="20" stroke="#111" stroke-width="1"/>
<line x1="277.4" y1="20" x2="282" y2="20" stroke="#111" stroke-width="1"/>
<line x1="279.7" y1="17.7" x2="279.7" y2="22.3" stroke="#111" stroke-width="1"/>
<line x1="292.7" y1="20" x2="297.3" y2="20" stroke="#111" stroke-width="1"/>
<line x1="308.5" y1="20" x2="313.1" y2="20" stroke="#111" stroke-width="1"/>
<line x1="310.8" y1="17.7" x2="310.8" y2="22.3" stroke="#111" stroke-width="1"/>
<text x="249.2" y="35.5" font-size="9.9" text-anchor="end" font-weight="normal" fill="#111" stroke="#111" stroke-width="0.4">Ad-SHP2:</text>
<line x1="261.7" y1="32.3" x2="266.3" y2="32.3" stroke="#111" stroke-width="1"/>
<line x1="277.4" y1="32.3" x2="282" y2="32.3" stroke="#111" stroke-width="1"/>
<line x1="292.7" y1="32.3" x2="297.3" y2="32.3" stroke="#111" stroke-width="1"/>
<line x1="295" y1="30" x2="295" y2="34.6" stroke="#111" stroke-width="1"/>
<line x1="308.5" y1="32.3" x2="313.1" y2="32.3" stroke="#111" stroke-width="1"/>
<line x1="310.8" y1="30" x2="310.8" y2="34.6" stroke="#111" stroke-width="1"/>
<text x="249.2" y="47.6" font-size="9.9" text-anchor="end" font-weight="normal" fill="#111" stroke="#111" stroke-width="0.4">Insulin:</text>
<line x1="261.7" y1="44.4" x2="266.3" y2="44.4" stroke="#111" stroke-width="1"/>
<line x1="264" y1="42.1" x2="264" y2="46.7" stroke="#111" stroke-width="1"/>
<line x1="277.4" y1="44.4" x2="282" y2="44.4" stroke="#111" stroke-width="1"/>
<line x1="279.7" y1="42.1" x2="279.7" y2="46.7" stroke="#111" stroke-width="1"/>
<line x1="292.7" y1="44.4" x2="297.3" y2="44.4" stroke="#111" stroke-width="1"/>
<line x1="295" y1="42.1" x2="295" y2="46.7" stroke="#111" stroke-width="1"/>
<line x1="308.5" y1="44.4" x2="313.1" y2="44.4" stroke="#111" stroke-width="1"/>
<line x1="310.8" y1="42.1" x2="310.8" y2="46.7" stroke="#111" stroke-width="1"/>
<rect x="254.8" y="53.3" width="65.2" height="15.3" fill="#bdbdbd" stroke="#2a2a2a" stroke-width="1"/>
<rect x="257.8" y="58.55" width="12.4" height="4.8" rx="2.4" fill="#0a0a0a" opacity="1" filter="url(#bl)"/>
<rect x="273.5" y="58.55" width="12.4" height="4.8" rx="2.4" fill="#0a0a0a" opacity="1" filter="url(#bl)"/>
<rect x="288.8" y="58.55" width="12.4" height="4.8" rx="2.4" fill="#0a0a0a" opacity="1" filter="url(#bl)"/>
<rect x="305.1" y="58.91" width="11.41" height="4.08" rx="2.04" fill="#0a0a0a" opacity="0.95" filter="url(#bl)"/>
<text x="249" y="65.05" font-size="9.5" text-anchor="end" font-weight="normal" fill="#111" stroke="#111" stroke-width="0.4">p-IR</text>
<rect x="254.8" y="71.4" width="65.2" height="15.3" fill="#bdbdbd" stroke="#2a2a2a" stroke-width="1"/>
<rect x="257.8" y="76.65" width="12.4" height="4.8" rx="2.4" fill="#0a0a0a" opacity="1" filter="url(#bl)"/>
<rect x="273.5" y="76.65" width="12.4" height="4.8" rx="2.4" fill="#0a0a0a" opacity="0.95" filter="url(#bl)"/>
<rect x="288.8" y="76.65" width="12.4" height="4.8" rx="2.4" fill="#0a0a0a" opacity="0.95" filter="url(#bl)"/>
<rect x="305.22" y="77.49" width="11.16" height="3.12" rx="1.56" fill="#0a0a0a" opacity="0.88" filter="url(#bl)"/>
<text x="249" y="83.15" font-size="9.5" text-anchor="end" font-weight="normal" fill="#111" stroke="#111" stroke-width="0.4">IR-β</text>
<rect x="254.8" y="89.5" width="65.2" height="15.3" fill="#bdbdbd" stroke="#2a2a2a" stroke-width="1"/>
<rect x="259.04" y="95.47" width="9.92" height="3.36" rx="1.68" fill="#0a0a0a" opacity="0.22" filter="url(#bl2)"/>
<rect x="272.88" y="90.91" width="13.64" height="12.48" rx="3.12" fill="#0a0a0a" opacity="0.4" filter="url(#bl2)"/>
<rect x="273.5" y="93.55" width="12.4" height="7.2" rx="2.16" fill="#0a0a0a" opacity="0.55" filter="url(#bl2)"/>
<rect x="288.8" y="94.75" width="12.4" height="4.8" rx="2.4" fill="#0a0a0a" opacity="0.08" filter="url(#bl)"/>
<rect x="305.84" y="95.47" width="9.92" height="3.36" rx="1.68" fill="#0a0a0a" opacity="0.22" filter="url(#bl2)"/>
<text x="249" y="101.25" font-size="9.5" text-anchor="end" font-weight="normal" fill="#111" stroke="#111" stroke-width="0.4">p-IRS1</text>
<rect x="254.8" y="107.6" width="65.2" height="15.3" fill="#bdbdbd" stroke="#2a2a2a" stroke-width="1"/>
<rect x="257.8" y="113.21" width="12.4" height="4.08" rx="2.04" fill="#0a0a0a" opacity="0.9" filter="url(#bl)"/>
<rect x="273.5" y="113.21" width="12.4" height="4.08" rx="2.04" fill="#0a0a0a" opacity="0.9" filter="url(#bl)"/>
<rect x="288.8" y="113.21" width="12.4" height="4.08" rx="2.04" fill="#0a0a0a" opacity="0.9" filter="url(#bl)"/>
<rect x="304.6" y="113.21" width="12.4" height="4.08" rx="2.04" fill="#0a0a0a" opacity="0.9" filter="url(#bl)"/>
<text x="249" y="119.35" font-size="9.5" text-anchor="end" font-weight="normal" fill="#111" stroke="#111" stroke-width="0.4">IRS1</text>
<rect x="254.8" y="125.7" width="65.2" height="15.3" fill="#bdbdbd" stroke="#2a2a2a" stroke-width="1"/>
<rect x="258.42" y="131.79" width="11.16" height="3.12" rx="1.56" fill="#0a0a0a" opacity="0.75" filter="url(#bl)"/>
<rect x="273.5" y="130.95" width="12.4" height="4.8" rx="2.4" fill="#0a0a0a" opacity="1" filter="url(#bl)"/>
<rect x="290.04" y="131.79" width="9.92" height="3.12" rx="1.56" fill="#0a0a0a" opacity="0.6" filter="url(#bl)"/>
<rect x="304.91" y="131.13" width="11.78" height="3.84" rx="1.92" fill="#0a0a0a" opacity="0.85" filter="url(#bl)"/>
<text x="249" y="137.45" font-size="9.5" text-anchor="end" font-weight="normal" fill="#111" stroke="#111" stroke-width="0.4">p-AKT</text>
<rect x="254.8" y="143.8" width="65.2" height="15.3" fill="#bdbdbd" stroke="#2a2a2a" stroke-width="1"/>
<rect x="257.8" y="149.05" width="12.4" height="4.8" rx="2.4" fill="#0a0a0a" opacity="0.9" filter="url(#bl)"/>
<rect x="273.5" y="149.05" width="12.4" height="4.8" rx="2.4" fill="#0a0a0a" opacity="0.9" filter="url(#bl)"/>
<rect x="288.8" y="149.05" width="12.4" height="4.8" rx="2.4" fill="#0a0a0a" opacity="0.9" filter="url(#bl)"/>
<rect x="304.6" y="149.05" width="12.4" height="4.8" rx="2.4" fill="#0a0a0a" opacity="0.9" filter="url(#bl)"/>
<text x="249" y="155.55" font-size="9.5" text-anchor="end" font-weight="normal" fill="#111" stroke="#111" stroke-width="0.4">AKT</text>
<rect x="254.8" y="161.9" width="65.2" height="15.3" fill="#bdbdbd" stroke="#2a2a2a" stroke-width="1"/>
<rect x="258.42" y="167.63" width="11.16" height="3.84" rx="1.92" fill="#0a0a0a" opacity="0.85" filter="url(#bl)"/>
<rect x="273.5" y="167.15" width="12.4" height="4.8" rx="2.4" fill="#0a0a0a" opacity="1" filter="url(#bl)"/>
<rect x="290.04" y="167.99" width="9.92" height="3.12" rx="1.56" fill="#0a0a0a" opacity="0.65" filter="url(#bl)"/>
<rect x="304.91" y="167.63" width="11.78" height="3.84" rx="1.92" fill="#0a0a0a" opacity="0.85" filter="url(#bl)"/>
<text x="249" y="173.65" font-size="9.5" text-anchor="end" font-weight="normal" fill="#111" stroke="#111" stroke-width="0.4">p-GSK3β</text>
<rect x="254.8" y="180" width="65.2" height="15.3" fill="#bdbdbd" stroke="#2a2a2a" stroke-width="1"/>
<rect x="257.8" y="184.65" width="12.4" height="6" rx="3" fill="#0a0a0a" opacity="0.95" filter="url(#bl)"/>
<rect x="273.5" y="185.01" width="12.4" height="5.28" rx="2.64" fill="#0a0a0a" opacity="0.9" filter="url(#bl)"/>
<rect x="288.8" y="185.25" width="12.4" height="4.8" rx="2.4" fill="#0a0a0a" opacity="0.85" filter="url(#bl)"/>
<rect x="304.6" y="185.25" width="12.4" height="4.8" rx="2.4" fill="#0a0a0a" opacity="0.75" filter="url(#bl)"/>
<text x="249" y="191.75" font-size="9.5" text-anchor="end" font-weight="normal" fill="#111" stroke="#111" stroke-width="0.4">GSK3β</text>
<rect x="254.8" y="198.1" width="65.2" height="15.3" fill="#bdbdbd" stroke="#2a2a2a" stroke-width="1"/>
<rect x="257.49" y="200.75" width="13.02" height="4.8" rx="1.2" fill="#0a0a0a" opacity="1" filter="url(#bl)"/>
<rect x="257.8" y="203.03" width="12.4" height="8.64" rx="1.3" fill="#0a0a0a" opacity="0.5" filter="url(#bl2)"/>
<rect x="274.12" y="204.31" width="11.16" height="2.88" rx="1.44" fill="#0a0a0a" opacity="0.12" filter="url(#bl)"/>
<rect x="288.49" y="200.75" width="13.02" height="4.8" rx="1.2" fill="#0a0a0a" opacity="1" filter="url(#bl)"/>
<rect x="288.8" y="203.03" width="12.4" height="8.64" rx="1.3" fill="#0a0a0a" opacity="0.5" filter="url(#bl2)"/>
<rect x="305.22" y="204.31" width="11.16" height="2.88" rx="1.44" fill="#0a0a0a" opacity="0.12" filter="url(#bl)"/>
<text x="249" y="209.85" font-size="9.5" text-anchor="end" font-weight="normal" fill="#111" stroke="#111" stroke-width="0.4">AF6</text>
<rect x="254.8" y="216.2" width="65.2" height="15.3" fill="#bdbdbd" stroke="#2a2a2a" stroke-width="1"/>
<rect x="258.11" y="223.09" width="11.78" height="3.12" rx="1.56" fill="#0a0a0a" opacity="0.9" filter="url(#bl)"/>
<rect x="273.81" y="223.09" width="11.78" height="3.12" rx="1.56" fill="#0a0a0a" opacity="0.9" filter="url(#bl)"/>
<rect x="287.25" y="218.33" width="15.5" height="11.04" rx="4.69" fill="#0a0a0a" opacity="1" filter="url(#bl)"/>
<rect x="303.05" y="218.33" width="15.5" height="11.04" rx="4.69" fill="#0a0a0a" opacity="1" filter="url(#bl)"/>
<text x="249" y="227.95" font-size="9.5" text-anchor="end" font-weight="normal" fill="#111" stroke="#111" stroke-width="0.4">SHP2</text>
<rect x="254.8" y="234.3" width="65.2" height="15.3" fill="#bdbdbd" stroke="#2a2a2a" stroke-width="1"/>
<rect x="257.8" y="240.15" width="12.4" height="3.6" rx="1.8" fill="#0a0a0a" opacity="0.9" filter="url(#bl)"/>
<rect x="273.5" y="240.15" width="12.4" height="3.6" rx="1.8" fill="#0a0a0a" opacity="0.9" filter="url(#bl)"/>
<rect x="288.8" y="240.15" width="12.4" height="3.6" rx="1.8" fill="#0a0a0a" opacity="0.9" filter="url(#bl)"/>
<rect x="304.6" y="240.15" width="12.4" height="3.6" rx="1.8" fill="#0a0a0a" opacity="0.9" filter="url(#bl)"/>
<text x="249" y="246.05" font-size="9.5" text-anchor="end" font-weight="normal" fill="#111" stroke="#111" stroke-width="0.4">HSP90</text>
<rect x="250.5" y="268.3" width="4.8" height="4.8" fill="#fff" stroke="#111" stroke-width="1.2"/>
<text x="261.2" y="274" font-size="8.9" text-anchor="start" font-weight="normal" fill="#111" stroke="#111" stroke-width="0.4">Ad-NC+Ad-null</text>
<rect x="250.5" y="277.1" width="4.8" height="4.8" fill="#6c6c6c" stroke="#222" stroke-width="1.2"/>
<text x="261.2" y="282.8" font-size="8.9" text-anchor="start" font-weight="normal" fill="#111" stroke="#111" stroke-width="0.4">Ad-cre+Ad-null</text>
<rect x="249.9" y="285.3" width="6" height="6" fill="#0a0a0a" stroke="none" stroke-width="1"/>
<text x="261.2" y="291.6" font-size="8.9" text-anchor="start" font-weight="normal" fill="#111" stroke="#111" stroke-width="0.4">Ad-NC+Ad-SHP2</text>
<rect x="250.5" y="294.5" width="4.8" height="4.8" fill="url(#hatch2)" stroke="#111" stroke-width="1.2"/>
<text x="261.2" y="300.2" font-size="8.9" text-anchor="start" font-weight="normal" fill="#111" stroke="#111" stroke-width="0.4">Ad-cre+Ad-SHP2</text>
<line x1="230.4" y1="382.3" x2="230.4" y2="310.7" stroke="#111" stroke-width="1.1"/>
<line x1="227.9" y1="381.8" x2="230.4" y2="381.8" stroke="#111" stroke-width="1"/>
<text x="226.4" y="385.09" font-size="9.15" text-anchor="end" font-weight="normal" fill="#111" stroke="#111" stroke-width="0.4">0.0</text>
<line x1="227.9" y1="367.68" x2="230.4" y2="367.68" stroke="#111" stroke-width="1"/>
<text x="226.4" y="370.97" font-size="9.15" text-anchor="end" font-weight="normal" fill="#111" stroke="#111" stroke-width="0.4">0.5</text>
<line x1="227.9" y1="353.56" x2="230.4" y2="353.56" stroke="#111" stroke-width="1"/>
<text x="226.4" y="356.85" font-size="9.15" text-anchor="end" font-weight="normal" fill="#111" stroke="#111" stroke-width="0.4">1.0</text>
<line x1="227.9" y1="339.44" x2="230.4" y2="339.44" stroke="#111" stroke-width="1"/>
<text x="226.4" y="342.73" font-size="9.15" text-anchor="end" font-weight="normal" fill="#111" stroke="#111" stroke-width="0.4">1.5</text>
<line x1="227.9" y1="325.32" x2="230.4" y2="325.32" stroke="#111" stroke-width="1"/>
<text x="226.4" y="328.61" font-size="9.15" text-anchor="end" font-weight="normal" fill="#111" stroke="#111" stroke-width="0.4">2.0</text>
<line x1="227.9" y1="311.2" x2="230.4" y2="311.2" stroke="#111" stroke-width="1"/>
<text x="226.4" y="314.49" font-size="9.15" text-anchor="end" font-weight="normal" fill="#111" stroke="#111" stroke-width="0.4">2.5</text>
<line x1="230.4" y1="381.8" x2="334.5" y2="381.8" stroke="#111" stroke-width="1.1"/>
<text x="210.3" y="341.6" font-size="9.4" text-anchor="middle" font-weight="normal" fill="#111" stroke="#111" stroke-width="0.4" transform="rotate(-90 210.3 341.6)">Arbitrary units</text>
<line x1="236.7" y1="353.56" x2="236.7" y2="353" stroke="#111" stroke-width="0.8"/>
<line x1="235.2" y1="353" x2="238.2" y2="353" stroke="#111" stroke-width="0.8"/>
<rect x="234.5" y="354.06" width="4.4" height="27.74" fill="#fff" stroke="#111" stroke-width="0.9"/>
<line x1="242.1" y1="355.54" x2="242.1" y2="354.41" stroke="#111" stroke-width="0.8"/>
<line x1="240.6" y1="354.41" x2="243.6" y2="354.41" stroke="#111" stroke-width="0.8"/>
<rect x="239.8" y="355.94" width="4.6" height="25.86" fill="#6c6c6c" stroke="#1a1a1a" stroke-width="0.8"/>
<line x1="247.5" y1="354.97" x2="247.5" y2="353.28" stroke="#111" stroke-width="0.8"/>
<line x1="246" y1="353.28" x2="249" y2="353.28" stroke="#111" stroke-width="0.8"/>
<rect x="244.8" y="354.97" width="5.4" height="26.83" fill="#0a0a0a" stroke="none" stroke-width="1"/>
<line x1="252.9" y1="355.54" x2="252.9" y2="354.69" stroke="#111" stroke-width="0.8"/>
<line x1="251.4" y1="354.69" x2="254.4" y2="354.69" stroke="#111" stroke-width="0.8"/>
<rect x="250.7" y="356.04" width="4.4" height="25.76" fill="url(#hatch)" stroke="#111" stroke-width="0.9"/>
<line x1="244.8" y1="381.8" x2="244.8" y2="384.3" stroke="#111" stroke-width="1"/>
<line x1="262.5" y1="352.15" x2="262.5" y2="351.02" stroke="#111" stroke-width="0.8"/>
<line x1="261" y1="351.02" x2="264" y2="351.02" stroke="#111" stroke-width="0.8"/>
<rect x="260.3" y="352.65" width="4.4" height="29.15" fill="#fff" stroke="#111" stroke-width="0.9"/>
<line x1="267.9" y1="334.36" x2="267.9" y2="331.53" stroke="#111" stroke-width="0.8"/>
<line x1="266.4" y1="331.53" x2="269.4" y2="331.53" stroke="#111" stroke-width="0.8"/>
<rect x="265.6" y="334.76" width="4.6" height="47.04" fill="#6c6c6c" stroke="#1a1a1a" stroke-width="0.8"/>
<line x1="273.3" y1="359.77" x2="273.3" y2="358.64" stroke="#111" stroke-width="0.8"/>
<line x1="271.8" y1="358.64" x2="274.8" y2="358.64" stroke="#111" stroke-width="0.8"/>
<rect x="270.6" y="359.77" width="5.4" height="22.03" fill="#0a0a0a" stroke="none" stroke-width="1"/>
<line x1="278.7" y1="358.36" x2="278.7" y2="357.23" stroke="#111" stroke-width="0.8"/>
<line x1="277.2" y1="357.23" x2="280.2" y2="357.23" stroke="#111" stroke-width="0.8"/>
<rect x="276.5" y="358.86" width="4.4" height="22.94" fill="url(#hatch)" stroke="#111" stroke-width="0.9"/>
<line x1="270.6" y1="381.8" x2="270.6" y2="384.3" stroke="#111" stroke-width="1"/>
<line x1="288.3" y1="353.56" x2="288.3" y2="352.71" stroke="#111" stroke-width="0.8"/>
<line x1="286.8" y1="352.71" x2="289.8" y2="352.71" stroke="#111" stroke-width="0.8"/>
<rect x="286.1" y="354.06" width="4.4" height="27.74" fill="#fff" stroke="#111" stroke-width="0.9"/>
<line x1="293.7" y1="329.56" x2="293.7" y2="324.47" stroke="#111" stroke-width="0.8"/>
<line x1="292.2" y1="324.47" x2="295.2" y2="324.47" stroke="#111" stroke-width="0.8"/>
<rect x="291.4" y="329.96" width="4.6" height="51.84" fill="#6c6c6c" stroke="#1a1a1a" stroke-width="0.8"/>
<line x1="299.1" y1="363.16" x2="299.1" y2="362.31" stroke="#111" stroke-width="0.8"/>
<line x1="297.6" y1="362.31" x2="300.6" y2="362.31" stroke="#111" stroke-width="0.8"/>
<rect x="296.4" y="363.16" width="5.4" height="18.64" fill="#0a0a0a" stroke="none" stroke-width="1"/>
<line x1="304.5" y1="355.82" x2="304.5" y2="354.97" stroke="#111" stroke-width="0.8"/>
<line x1="303" y1="354.97" x2="306" y2="354.97" stroke="#111" stroke-width="0.8"/>
<rect x="302.3" y="356.32" width="4.4" height="25.48" fill="url(#hatch)" stroke="#111" stroke-width="0.9"/>
<line x1="296.4" y1="381.8" x2="296.4" y2="384.3" stroke="#111" stroke-width="1"/>
<line x1="314.1" y1="353.56" x2="314.1" y2="352.15" stroke="#111" stroke-width="0.8"/>
<line x1="312.6" y1="352.15" x2="315.6" y2="352.15" stroke="#111" stroke-width="0.8"/>
<rect x="311.9" y="354.06" width="4.4" height="27.74" fill="#fff" stroke="#111" stroke-width="0.9"/>
<line x1="319.5" y1="332.38" x2="319.5" y2="328.14" stroke="#111" stroke-width="0.8"/>
<line x1="318" y1="328.14" x2="321" y2="328.14" stroke="#111" stroke-width="0.8"/>
<rect x="317.2" y="332.78" width="4.6" height="49.02" fill="#6c6c6c" stroke="#1a1a1a" stroke-width="0.8"/>
<line x1="324.9" y1="360.62" x2="324.9" y2="358.36" stroke="#111" stroke-width="0.8"/>
<line x1="323.4" y1="358.36" x2="326.4" y2="358.36" stroke="#111" stroke-width="0.8"/>
<rect x="322.2" y="360.62" width="5.4" height="21.18" fill="#0a0a0a" stroke="none" stroke-width="1"/>
<line x1="330.3" y1="356.95" x2="330.3" y2="355.25" stroke="#111" stroke-width="0.8"/>
<line x1="328.8" y1="355.25" x2="331.8" y2="355.25" stroke="#111" stroke-width="0.8"/>
<rect x="328.1" y="357.45" width="4.4" height="24.35" fill="url(#hatch)" stroke="#111" stroke-width="0.9"/>
<line x1="322.2" y1="381.8" x2="322.2" y2="384.3" stroke="#111" stroke-width="1"/>
<text x="249.3" y="390.6" font-size="9.6" text-anchor="end" font-weight="normal" fill="#111" stroke="#111" stroke-width="0.4" transform="rotate(-45 249.3 390.6)">p-IR</text>
<text x="275.1" y="390.6" font-size="9.6" text-anchor="end" font-weight="normal" fill="#111" stroke="#111" stroke-width="0.4" transform="rotate(-45 275.1 390.6)">p-IRS1</text>
<text x="300.9" y="390.6" font-size="9.6" text-anchor="end" font-weight="normal" fill="#111" stroke="#111" stroke-width="0.4" transform="rotate(-45 300.9 390.6)">p-AKT</text>
<text x="326.7" y="390.6" font-size="9.6" text-anchor="end" font-weight="normal" fill="#111" stroke="#111" stroke-width="0.4" transform="rotate(-45 326.7 390.6)">p-GSK3β</text>
<path d="M262.5 329.8 V328 H267.9 V329.8" stroke="#222" stroke-width="0.8" fill="none"/>
<text x="265.2" y="329.5" font-size="8.6" text-anchor="middle" font-weight="bold" fill="#111" stroke="#111" stroke-width="0">*</text>
<path d="M267.9 327.2 V325.4 H278.7 V327.2" stroke="#222" stroke-width="0.8" fill="none"/>
<text x="273.3" y="324.2" font-size="6" text-anchor="middle" font-weight="normal" fill="#e8383c" stroke="#e8383c" stroke-width="0.15">#</text>
<path d="M262.5 320.6 V318.8 H273.3 V320.6" stroke="#222" stroke-width="0.8" fill="none"/>
<text x="267.9" y="320.3" font-size="8.6" text-anchor="middle" font-weight="bold" fill="#111" stroke="#111" stroke-width="0">*</text>
<path d="M288.3 323.3 V321.5 H293.7 V323.3" stroke="#222" stroke-width="0.8" fill="none"/>
<text x="291" y="323" font-size="8.6" text-anchor="middle" font-weight="bold" fill="#111" stroke="#111" stroke-width="0">*</text>
<path d="M293.7 320.3 V318.5 H304.5 V320.3" stroke="#222" stroke-width="0.8" fill="none"/>
<text x="299.1" y="317.3" font-size="6" text-anchor="middle" font-weight="normal" fill="#e8383c" stroke="#e8383c" stroke-width="0.15">#</text>
<path d="M288.3 313.3 V311.5 H299.1 V313.3" stroke="#222" stroke-width="0.8" fill="none"/>
<text x="293.7" y="313" font-size="8.6" text-anchor="middle" font-weight="bold" fill="#111" stroke="#111" stroke-width="0">*</text>
<path d="M314.1 325.6 V323.8 H319.5 V325.6" stroke="#222" stroke-width="0.8" fill="none"/>
<text x="316.8" y="325.3" font-size="8.6" text-anchor="middle" font-weight="bold" fill="#111" stroke="#111" stroke-width="0">*</text>
<path d="M319.5 323.3 V321.5 H330.3 V323.3" stroke="#222" stroke-width="0.8" fill="none"/>
<text x="324.9" y="320.3" font-size="6" text-anchor="middle" font-weight="normal" fill="#e8383c" stroke="#e8383c" stroke-width="0.15">#</text>
<text x="361.2" y="15" font-size="18.5" text-anchor="start" font-weight="bold" fill="#000" stroke="#000" stroke-width="0">C</text>
<rect x="448.6" y="18.2" width="5.2" height="5.2" fill="#050505" stroke="none" stroke-width="1"/>
<text x="458.2" y="23.9" font-size="8.8" text-anchor="start" font-weight="normal" fill="#111" stroke="#111" stroke-width="0.4">fl/fl+Ad-null</text>
<rect x="448.6" y="26.75" width="5.2" height="5.2" fill="#f7941e" stroke="none" stroke-width="1"/>
<text x="458.2" y="32.45" font-size="8.8" text-anchor="start" font-weight="normal" fill="#111" stroke="#111" stroke-width="0.4">LKO+Ad-null</text>
<rect x="448.6" y="35.3" width="5.2" height="5.2" fill="#1010fa" stroke="none" stroke-width="1"/>
<text x="458.2" y="41" font-size="8.8" text-anchor="start" font-weight="normal" fill="#111" stroke="#111" stroke-width="0.4">fl/fl+Ad-SHP2</text>
<rect x="448.6" y="43.85" width="5.2" height="5.2" fill="#f81414" stroke="none" stroke-width="1"/>
<text x="458.2" y="49.55" font-size="8.8" text-anchor="start" font-weight="normal" fill="#111" stroke="#111" stroke-width="0.4">LKO+Ad-SHP2</text>
<line x1="400.1" y1="122.2" x2="400.1" y2="50.5" stroke="#111" stroke-width="1.1"/>
<line x1="397.6" y1="121.7" x2="400.1" y2="121.7" stroke="#111" stroke-width="1"/>
<text x="396.1" y="124.87" font-size="8.8" text-anchor="end" font-weight="normal" fill="#111" stroke="#111" stroke-width="0.4">0</text>
<line x1="397.6" y1="107.56" x2="400.1" y2="107.56" stroke="#111" stroke-width="1"/>
<text x="396.1" y="110.73" font-size="8.8" text-anchor="end" font-weight="normal" fill="#111" stroke="#111" stroke-width="0.4">2</text>
<line x1="397.6" y1="93.42" x2="400.1" y2="93.42" stroke="#111" stroke-width="1"/>
<text x="396.1" y="96.59" font-size="8.8" text-anchor="end" font-weight="normal" fill="#111" stroke="#111" stroke-width="0.4">4</text>
<line x1="397.6" y1="79.28" x2="400.1" y2="79.28" stroke="#111" stroke-width="1"/>
<text x="396.1" y="82.45" font-size="8.8" text-anchor="end" font-weight="normal" fill="#111" stroke="#111" stroke-width="0.4">6</text>
<line x1="397.6" y1="65.14" x2="400.1" y2="65.14" stroke="#111" stroke-width="1"/>
<text x="396.1" y="68.31" font-size="8.8" text-anchor="end" font-weight="normal" fill="#111" stroke="#111" stroke-width="0.4">8</text>
<line x1="397.6" y1="51" x2="400.1" y2="51" stroke="#111" stroke-width="1"/>
<text x="396.1" y="54.17" font-size="8.8" text-anchor="end" font-weight="normal" fill="#111" stroke="#111" stroke-width="0.4">10</text>
<line x1="400.1" y1="121.7" x2="485" y2="121.7" stroke="#111" stroke-width="1.1"/>
<text x="384.5" y="80.4" font-size="9.5" text-anchor="middle" font-weight="normal" fill="#111" stroke="#111" stroke-width="0.4" transform="rotate(-90 384.5 80.4)">Blood Glucose(mmol/L)</text>
<line x1="409.5" y1="70.65" x2="409.5" y2="69.81" stroke="#050505" stroke-width="0.8"/>
<line x1="408" y1="69.81" x2="411" y2="69.81" stroke="#050505" stroke-width="0.8"/>
<rect x="405.4" y="70.65" width="8.2" height="51.05" fill="#050505" stroke="none" stroke-width="1"/>
<line x1="417.7" y1="75.89" x2="417.7" y2="74.12" stroke="#f7941e" stroke-width="0.8"/>
<line x1="416.2" y1="74.12" x2="419.2" y2="74.12" stroke="#f7941e" stroke-width="0.8"/>
<rect x="413.6" y="75.89" width="8.2" height="45.81" fill="#f7941e" stroke="none" stroke-width="1"/>
<line x1="425.9" y1="66.98" x2="425.9" y2="66.27" stroke="#1010fa" stroke-width="0.8"/>
<line x1="424.4" y1="66.27" x2="427.4" y2="66.27" stroke="#1010fa" stroke-width="0.8"/>
<rect x="421.8" y="66.98" width="8.2" height="54.72" fill="#1010fa" stroke="none" stroke-width="1"/>
<line x1="434.1" y1="69.95" x2="434.1" y2="69.24" stroke="#f81414" stroke-width="0.8"/>
<line x1="432.6" y1="69.24" x2="435.6" y2="69.24" stroke="#f81414" stroke-width="0.8"/>
<rect x="430" y="69.95" width="8.2" height="51.75" fill="#f81414" stroke="none" stroke-width="1"/>
<line x1="421.8" y1="121.7" x2="421.8" y2="124.2" stroke="#111" stroke-width="1"/>
<line x1="450.3" y1="84.65" x2="450.3" y2="83.59" stroke="#050505" stroke-width="0.8"/>
<line x1="448.8" y1="83.59" x2="451.8" y2="83.59" stroke="#050505" stroke-width="0.8"/>
<rect x="446.2" y="84.65" width="8.2" height="37.05" fill="#050505" stroke="none" stroke-width="1"/>
<line x1="458.5" y1="88.9" x2="458.5" y2="88.05" stroke="#f7941e" stroke-width="0.8"/>
<line x1="457" y1="88.05" x2="460" y2="88.05" stroke="#f7941e" stroke-width="0.8"/>
<rect x="454.4" y="88.9" width="8.2" height="32.8" fill="#f7941e" stroke="none" stroke-width="1"/>
<line x1="466.7" y1="80.06" x2="466.7" y2="79" stroke="#1010fa" stroke-width="0.8"/>
<line x1="465.2" y1="79" x2="468.2" y2="79" stroke="#1010fa" stroke-width="0.8"/>
<rect x="462.6" y="80.06" width="8.2" height="41.64" fill="#1010fa" stroke="none" stroke-width="1"/>
<line x1="474.9" y1="82.18" x2="474.9" y2="81.12" stroke="#f81414" stroke-width="0.8"/>
<line x1="473.4" y1="81.12" x2="476.4" y2="81.12" stroke="#f81414" stroke-width="0.8"/>
<rect x="470.8" y="82.18" width="8.2" height="39.52" fill="#f81414" stroke="none" stroke-width="1"/>
<line x1="462.6" y1="121.7" x2="462.6" y2="124.2" stroke="#111" stroke-width="1"/>
<text x="423.4" y="133.3" font-size="9.8" text-anchor="middle" font-weight="normal" fill="#111" stroke="#111" stroke-width="0.4">Fed</text>
<text x="462.5" y="133.3" font-size="9.8" text-anchor="middle" font-weight="normal" fill="#111" stroke="#111" stroke-width="0.4">Fast</text>
<path d="M409.5 68.3 V66.5 H418.5 V68.3" stroke="#222" stroke-width="0.8" fill="none"/>
<text x="414" y="68" font-size="8.6" text-anchor="middle" font-weight="bold" fill="#111" stroke="#111" stroke-width="0">**</text>
<path d="M409.5 60.6 V58.8 H426.5 V60.6" stroke="#222" stroke-width="0.8" fill="none"/>
<text x="418" y="60.3" font-size="8.6" text-anchor="middle" font-weight="bold" fill="#111" stroke="#111" stroke-width="0">*</text>
<path d="M418.2 52.6 V50.8 H434.6 V52.6" stroke="#222" stroke-width="0.8" fill="none"/>
<text x="426.4" y="49.6" font-size="6" text-anchor="middle" font-weight="normal" fill="#e8383c" stroke="#e8383c" stroke-width="0.15">##</text>
<path d="M450.3 82.6 V80.8 H458.5 V82.6" stroke="#222" stroke-width="0.8" fill="none"/>
<text x="454.4" y="82.3" font-size="8.6" text-anchor="middle" font-weight="bold" fill="#111" stroke="#111" stroke-width="0">*</text>
<path d="M450.3 77 V75.2 H466.5 V77" stroke="#222" stroke-width="0.8" fill="none"/>
<text x="458.4" y="76.7" font-size="8.6" text-anchor="middle" font-weight="bold" fill="#111" stroke="#111" stroke-width="0">*</text>
<path d="M458.5 68.3 V66.5 H475 V68.3" stroke="#222" stroke-width="0.8" fill="none"/>
<text x="466.75" y="65.3" font-size="6" text-anchor="middle" font-weight="normal" fill="#e8383c" stroke="#e8383c" stroke-width="0.15">##</text>
<text x="361.2" y="156.6" font-size="18.5" text-anchor="start" font-weight="bold" fill="#000" stroke="#000" stroke-width="0">D</text>
<line x1="399.5" y1="243.1" x2="399.5" y2="171.22" stroke="#111" stroke-width="1.1"/>
<line x1="397" y1="242.6" x2="399.5" y2="242.6" stroke="#111" stroke-width="1"/>
<text x="395.5" y="245.84" font-size="9" text-anchor="end" font-weight="normal" fill="#111" stroke="#111" stroke-width="0.4">0.0</text>
<line x1="397" y1="224.88" x2="399.5" y2="224.88" stroke="#111" stroke-width="1"/>
<text x="395.5" y="228.12" font-size="9" text-anchor="end" font-weight="normal" fill="#111" stroke="#111" stroke-width="0.4">0.2</text>
<line x1="397" y1="207.16" x2="399.5" y2="207.16" stroke="#111" stroke-width="1"/>
<text x="395.5" y="210.4" font-size="9" text-anchor="end" font-weight="normal" fill="#111" stroke="#111" stroke-width="0.4">0.4</text>
<line x1="397" y1="189.44" x2="399.5" y2="189.44" stroke="#111" stroke-width="1"/>
<text x="395.5" y="192.68" font-size="9" text-anchor="end" font-weight="normal" fill="#111" stroke="#111" stroke-width="0.4">0.6</text>
<line x1="397" y1="171.72" x2="399.5" y2="171.72" stroke="#111" stroke-width="1"/>
<text x="395.5" y="174.96" font-size="9" text-anchor="end" font-weight="normal" fill="#111" stroke="#111" stroke-width="0.4">0.8</text>
<line x1="399.5" y1="242.6" x2="484" y2="242.6" stroke="#111" stroke-width="1.1"/>
<text x="379.6" y="207" font-size="9.2" text-anchor="middle" font-weight="normal" fill="#111" stroke="#111" stroke-width="0.4" transform="rotate(-90 379.6 207)">Serum Insulin(ng/mL)</text>
<line x1="409.5" y1="202.73" x2="409.5" y2="200.51" stroke="#050505" stroke-width="0.8"/>
<line x1="408" y1="200.51" x2="411" y2="200.51" stroke="#050505" stroke-width="0.8"/>
<rect x="405.4" y="202.73" width="8.2" height="39.87" fill="#050505" stroke="none" stroke-width="1"/>
<line x1="417.7" y1="211.59" x2="417.7" y2="209.38" stroke="#f7941e" stroke-width="0.8"/>
<line x1="416.2" y1="209.38" x2="419.2" y2="209.38" stroke="#f7941e" stroke-width="0.8"/>
<rect x="413.6" y="211.59" width="8.2" height="31.01" fill="#f7941e" stroke="none" stroke-width="1"/>
<line x1="425.9" y1="198.3" x2="425.9" y2="195.64" stroke="#1010fa" stroke-width="0.8"/>
<line x1="424.4" y1="195.64" x2="427.4" y2="195.64" stroke="#1010fa" stroke-width="0.8"/>
<rect x="421.8" y="198.3" width="8.2" height="44.3" fill="#1010fa" stroke="none" stroke-width="1"/>
<line x1="434.1" y1="192.1" x2="434.1" y2="186.78" stroke="#f81414" stroke-width="0.8"/>
<line x1="432.6" y1="186.78" x2="435.6" y2="186.78" stroke="#f81414" stroke-width="0.8"/>
<rect x="430" y="192.1" width="8.2" height="50.5" fill="#f81414" stroke="none" stroke-width="1"/>
<line x1="421.8" y1="242.6" x2="421.8" y2="245.1" stroke="#111" stroke-width="1"/>
<line x1="450.3" y1="215.13" x2="450.3" y2="212.48" stroke="#050505" stroke-width="0.8"/>
<line x1="448.8" y1="212.48" x2="451.8" y2="212.48" stroke="#050505" stroke-width="0.8"/>
<rect x="446.2" y="215.13" width="8.2" height="27.47" fill="#050505" stroke="none" stroke-width="1"/>
<line x1="458.5" y1="220.45" x2="458.5" y2="218.68" stroke="#f7941e" stroke-width="0.8"/>
<line x1="457" y1="218.68" x2="460" y2="218.68" stroke="#f7941e" stroke-width="0.8"/>
<rect x="454.4" y="220.45" width="8.2" height="22.15" fill="#f7941e" stroke="none" stroke-width="1"/>
<line x1="466.7" y1="200.96" x2="466.7" y2="199.19" stroke="#1010fa" stroke-width="0.8"/>
<line x1="465.2" y1="199.19" x2="468.2" y2="199.19" stroke="#1010fa" stroke-width="0.8"/>
<rect x="462.6" y="200.96" width="8.2" height="41.64" fill="#1010fa" stroke="none" stroke-width="1"/>
<line x1="474.9" y1="208.05" x2="474.9" y2="205.83" stroke="#f81414" stroke-width="0.8"/>
<line x1="473.4" y1="205.83" x2="476.4" y2="205.83" stroke="#f81414" stroke-width="0.8"/>
<rect x="470.8" y="208.05" width="8.2" height="34.55" fill="#f81414" stroke="none" stroke-width="1"/>
<line x1="462.6" y1="242.6" x2="462.6" y2="245.1" stroke="#111" stroke-width="1"/>
<text x="423.4" y="254.5" font-size="9.8" text-anchor="middle" font-weight="normal" fill="#111" stroke="#111" stroke-width="0.4">Fed</text>
<text x="462.5" y="254.5" font-size="9.8" text-anchor="middle" font-weight="normal" fill="#111" stroke="#111" stroke-width="0.4">Fast</text>
<path d="M417.7 185.1 V183.3 H434.6 V185.1" stroke="#222" stroke-width="0.8" fill="none"/>
<text x="426.15" y="182.1" font-size="6" text-anchor="middle" font-weight="normal" fill="#e8383c" stroke="#e8383c" stroke-width="0.15">#</text>
<path d="M450.5 198.5 V196.7 H467 V198.5" stroke="#222" stroke-width="0.8" fill="none"/>
<text x="458.75" y="198.2" font-size="8.6" text-anchor="middle" font-weight="bold" fill="#111" stroke="#111" stroke-width="0">*</text>
<path d="M458.1 190.3 V188.5 H475 V190.3" stroke="#222" stroke-width="0.8" fill="none"/>
<text x="466.55" y="187.3" font-size="6" text-anchor="middle" font-weight="normal" fill="#e8383c" stroke="#e8383c" stroke-width="0.15">#</text>
<text x="361.2" y="281.8" font-size="18.5" text-anchor="start" font-weight="bold" fill="#000" stroke="#000" stroke-width="0">E</text>
<line x1="399.3" y1="362.7" x2="399.3" y2="291.3" stroke="#111" stroke-width="1.1"/>
<line x1="396.8" y1="362.2" x2="399.3" y2="362.2" stroke="#111" stroke-width="1"/>
<text x="395.3" y="365.01" font-size="7.8" text-anchor="end" font-weight="normal" fill="#111" stroke="#111" stroke-width="0.4">0</text>
<line x1="396.8" y1="344.6" x2="399.3" y2="344.6" stroke="#111" stroke-width="1"/>
<text x="395.3" y="347.41" font-size="7.8" text-anchor="end" font-weight="normal" fill="#111" stroke="#111" stroke-width="0.4">1</text>
<line x1="396.8" y1="327" x2="399.3" y2="327" stroke="#111" stroke-width="1"/>
<text x="395.3" y="329.81" font-size="7.8" text-anchor="end" font-weight="normal" fill="#111" stroke="#111" stroke-width="0.4">2</text>
<line x1="396.8" y1="309.4" x2="399.3" y2="309.4" stroke="#111" stroke-width="1"/>
<text x="395.3" y="312.21" font-size="7.8" text-anchor="end" font-weight="normal" fill="#111" stroke="#111" stroke-width="0.4">3</text>
<line x1="396.8" y1="291.8" x2="399.3" y2="291.8" stroke="#111" stroke-width="1"/>
<text x="395.3" y="294.61" font-size="7.8" text-anchor="end" font-weight="normal" fill="#111" stroke="#111" stroke-width="0.4">4</text>
<line x1="399.3" y1="362.2" x2="471" y2="362.2" stroke="#111" stroke-width="1.1"/>
<text x="389" y="323.9" font-size="8.1" text-anchor="middle" font-weight="normal" fill="#111" stroke="#111" stroke-width="0.4" transform="rotate(-90 389 323.9)">HOMA-IR</text>
<line x1="411.2" y1="328.76" x2="411.2" y2="325.24" stroke="#050505" stroke-width="0.8"/>
<line x1="409.7" y1="325.24" x2="412.7" y2="325.24" stroke="#050505" stroke-width="0.8"/>
<rect x="405.6" y="328.76" width="11.3" height="33.44" fill="#050505" stroke="none" stroke-width="1"/>
<line x1="411.2" y1="362.2" x2="411.2" y2="364.7" stroke="#111" stroke-width="1"/>
<line x1="426.9" y1="340.2" x2="426.9" y2="338.09" stroke="#f7941e" stroke-width="0.8"/>
<line x1="425.4" y1="338.09" x2="428.4" y2="338.09" stroke="#f7941e" stroke-width="0.8"/>
<rect x="421.3" y="340.2" width="11.3" height="22" fill="#f7941e" stroke="none" stroke-width="1"/>
<line x1="426.9" y1="362.2" x2="426.9" y2="364.7" stroke="#111" stroke-width="1"/>
<line x1="443.2" y1="310.28" x2="443.2" y2="307.64" stroke="#1010fa" stroke-width="0.8"/>
<line x1="441.7" y1="307.64" x2="444.7" y2="307.64" stroke="#1010fa" stroke-width="0.8"/>
<rect x="437.6" y="310.28" width="11.3" height="51.92" fill="#1010fa" stroke="none" stroke-width="1"/>
<line x1="443.2" y1="362.2" x2="443.2" y2="364.7" stroke="#111" stroke-width="1"/>
<line x1="459.6" y1="317.32" x2="459.6" y2="313.45" stroke="#f81414" stroke-width="0.8"/>
<line x1="458.1" y1="313.45" x2="461.1" y2="313.45" stroke="#f81414" stroke-width="0.8"/>
<rect x="454" y="317.32" width="11.3" height="44.88" fill="#f81414" stroke="none" stroke-width="1"/>
<line x1="459.6" y1="362.2" x2="459.6" y2="364.7" stroke="#111" stroke-width="1"/>
<path d="M410.4 322.9 V321.1 H427.4 V322.9" stroke="#222" stroke-width="0.8" fill="none"/>
<text x="418.9" y="322.6" font-size="8.6" text-anchor="middle" font-weight="bold" fill="#111" stroke="#111" stroke-width="0">*</text>
<path d="M410.4 305.6 V303.8 H443.3 V305.6" stroke="#222" stroke-width="0.8" fill="none"/>
<text x="426.85" y="305.3" font-size="8.6" text-anchor="middle" font-weight="bold" fill="#111" stroke="#111" stroke-width="0">*</text>
<path d="M426.7 297.2 V295.4 H459.9 V297.2" stroke="#222" stroke-width="0.8" fill="none"/>
<text x="443.3" y="294.2" font-size="6" text-anchor="middle" font-weight="normal" fill="#e8383c" stroke="#e8383c" stroke-width="0.15">##</text>
<text x="1.5" y="437.5" font-size="18.5" text-anchor="start" font-weight="bold" fill="#000" stroke="#000" stroke-width="0">F</text>
<text x="254" y="437.5" font-size="18.5" text-anchor="start" font-weight="bold" fill="#000" stroke="#000" stroke-width="0">G</text>
<line x1="91" y1="436.5" x2="97.6" y2="436.5" stroke="#050505" stroke-width="1"/>
<circle cx="94.3" cy="436.5" r="1.8" fill="#050505"/>
<text x="101.1" y="439.6" font-size="9" text-anchor="start" font-weight="normal" fill="#111" stroke="#111" stroke-width="0.4">fl/fl+Ad-null</text>
<line x1="91" y1="445.25" x2="97.6" y2="445.25" stroke="#f7941e" stroke-width="1"/>
<circle cx="94.3" cy="445.25" r="1.8" fill="#f7941e"/>
<text x="101.1" y="448.35" font-size="9" text-anchor="start" font-weight="normal" fill="#111" stroke="#111" stroke-width="0.4">LKO+Ad-null</text>
<line x1="91" y1="454" x2="97.6" y2="454" stroke="#1010fa" stroke-width="1"/>
<path d="M92.3 455.5 L96.3 455.5 L94.3 452 Z" stroke="none" stroke-width="1" fill="#1010fa"/>
<text x="101.1" y="457.1" font-size="9" text-anchor="start" font-weight="normal" fill="#111" stroke="#111" stroke-width="0.4">fl/fl+Ad-SHP2</text>
<line x1="91" y1="462.75" x2="97.6" y2="462.75" stroke="#f81414" stroke-width="1"/>
<circle cx="94.3" cy="462.75" r="1.8" fill="#f81414"/>
<text x="101.1" y="465.85" font-size="9" text-anchor="start" font-weight="normal" fill="#111" stroke="#111" stroke-width="0.4">LKO+Ad-SHP2</text>
<line x1="323.2" y1="436.5" x2="329.8" y2="436.5" stroke="#050505" stroke-width="1"/>
<circle cx="326.5" cy="436.5" r="1.8" fill="#050505"/>
<text x="333.7" y="439.6" font-size="9" text-anchor="start" font-weight="normal" fill="#111" stroke="#111" stroke-width="0.4">fl/fl+Ad-null</text>
<line x1="323.2" y1="445.25" x2="329.8" y2="445.25" stroke="#f7941e" stroke-width="1"/>
<circle cx="326.5" cy="445.25" r="1.8" fill="#f7941e"/>
<text x="333.7" y="448.35" font-size="9" text-anchor="start" font-weight="normal" fill="#111" stroke="#111" stroke-width="0.4">LKO+Ad-null</text>
<line x1="323.2" y1="454" x2="329.8" y2="454" stroke="#1010fa" stroke-width="1"/>
<path d="M324.5 455.5 L328.5 455.5 L326.5 452 Z" stroke="none" stroke-width="1" fill="#1010fa"/>
<text x="333.7" y="457.1" font-size="9" text-anchor="start" font-weight="normal" fill="#111" stroke="#111" stroke-width="0.4">fl/fl+Ad-SHP2</text>
<line x1="323.2" y1="462.75" x2="329.8" y2="462.75" stroke="#f81414" stroke-width="1"/>
<circle cx="326.5" cy="462.75" r="1.8" fill="#f81414"/>
<text x="333.7" y="465.85" font-size="9" text-anchor="start" font-weight="normal" fill="#111" stroke="#111" stroke-width="0.4">LKO+Ad-SHP2</text>
<line x1="48.3" y1="520" x2="48.3" y2="454.8" stroke="#111" stroke-width="1.1"/>
<line x1="48.3" y1="520" x2="142" y2="520" stroke="#111" stroke-width="1.1"/>
<line x1="45.8" y1="520" x2="48.3" y2="520" stroke="#111" stroke-width="1"/>
<text x="43.8" y="523.3" font-size="9.2" text-anchor="end" font-weight="normal" fill="#111" stroke="#111" stroke-width="0.4">0</text>
<line x1="45.8" y1="503.7" x2="48.3" y2="503.7" stroke="#111" stroke-width="1"/>
<text x="43.8" y="507" font-size="9.2" text-anchor="end" font-weight="normal" fill="#111" stroke="#111" stroke-width="0.4">5</text>
<line x1="45.8" y1="487.4" x2="48.3" y2="487.4" stroke="#111" stroke-width="1"/>
<text x="43.8" y="490.7" font-size="9.2" text-anchor="end" font-weight="normal" fill="#111" stroke="#111" stroke-width="0.4">10</text>
<line x1="45.8" y1="471.1" x2="48.3" y2="471.1" stroke="#111" stroke-width="1"/>
<text x="43.8" y="474.4" font-size="9.2" text-anchor="end" font-weight="normal" fill="#111" stroke="#111" stroke-width="0.4">15</text>
<line x1="45.8" y1="454.8" x2="48.3" y2="454.8" stroke="#111" stroke-width="1"/>
<text x="43.8" y="458.1" font-size="9.2" text-anchor="end" font-weight="normal" fill="#111" stroke="#111" stroke-width="0.4">20</text>
<line x1="52.3" y1="520" x2="52.3" y2="522.5" stroke="#111" stroke-width="1"/>
<text x="52.3" y="531.4" font-size="9.6" text-anchor="middle" font-weight="normal" fill="#111" stroke="#111" stroke-width="0.4">0</text>
<line x1="74.38" y1="520" x2="74.38" y2="522.5" stroke="#111" stroke-width="1"/>
<text x="74.38" y="531.4" font-size="9.6" text-anchor="middle" font-weight="normal" fill="#111" stroke="#111" stroke-width="0.4">30</text>
<line x1="96.45" y1="520" x2="96.45" y2="522.5" stroke="#111" stroke-width="1"/>
<text x="96.45" y="531.4" font-size="9.6" text-anchor="middle" font-weight="normal" fill="#111" stroke="#111" stroke-width="0.4">60</text>
<line x1="118.52" y1="520" x2="118.52" y2="522.5" stroke="#111" stroke-width="1"/>
<text x="118.52" y="531.4" font-size="9.6" text-anchor="middle" font-weight="normal" fill="#111" stroke="#111" stroke-width="0.4">90</text>
<line x1="140.6" y1="520" x2="140.6" y2="522.5" stroke="#111" stroke-width="1"/>
<text x="140.6" y="531.4" font-size="9.6" text-anchor="middle" font-weight="normal" fill="#111" stroke="#111" stroke-width="0.4">120</text>
<text x="91.6" y="542.8" font-size="10.3" text-anchor="middle" font-weight="normal" fill="#111" stroke="#111" stroke-width="0.4">(min)</text>
<text x="30.2" y="478.7" font-size="9.05" text-anchor="middle" font-weight="normal" fill="#111" stroke="#111" stroke-width="0.4" transform="rotate(-90 30.2 478.7)">Blood Glucose(mmol/L)</text>
<polyline points="52.3,505 63.34,483.81 74.38,479.9 96.45,499.14 118.52,502.07 140.6,506.96" fill="none" stroke="#eaa54a" stroke-width="1.1"/>
<polyline points="52.3,502.72 63.34,476.32 74.38,473.06 96.45,492.94 118.52,497.18 140.6,503.7" fill="none" stroke="#1a1a1a" stroke-width="1.1"/>
<polyline points="52.3,502.07 63.34,471.1 74.38,468.17 96.45,487.4 118.52,495.22 140.6,500.44" fill="none" stroke="#3a2a9a" stroke-width="1.1"/>
<polyline points="52.3,502.07 63.34,472.08 74.38,468.49 96.45,488.05 118.52,496.2 140.6,501.09" fill="none" stroke="#9a1a40" stroke-width="1.1"/>
<circle cx="52.3" cy="505" r="1.5" fill="#f0a040"/>
<circle cx="63.34" cy="483.81" r="1.5" fill="#f0a040"/>
<circle cx="74.38" cy="479.9" r="1.5" fill="#f0a040"/>
<circle cx="96.45" cy="499.14" r="1.5" fill="#f0a040"/>
<circle cx="118.52" cy="502.07" r="1.5" fill="#f0a040"/>
<circle cx="140.6" cy="506.96" r="1.5" fill="#f0a040"/>
<circle cx="52.3" cy="502.72" r="1.5" fill="#111111"/>
<circle cx="63.34" cy="476.32" r="1.5" fill="#111111"/>
<circle cx="74.38" cy="473.06" r="1.5" fill="#111111"/>
<circle cx="96.45" cy="492.94" r="1.5" fill="#111111"/>
<circle cx="118.52" cy="497.18" r="1.5" fill="#111111"/>
<circle cx="140.6" cy="503.7" r="1.5" fill="#111111"/>
<circle cx="52.3" cy="502.07" r="1.5" fill="#3030d0"/>
<circle cx="63.34" cy="471.1" r="1.5" fill="#3030d0"/>
<circle cx="74.38" cy="468.17" r="1.5" fill="#3030d0"/>
<circle cx="96.45" cy="487.4" r="1.5" fill="#3030d0"/>
<circle cx="118.52" cy="495.22" r="1.5" fill="#3030d0"/>
<circle cx="140.6" cy="500.44" r="1.5" fill="#3030d0"/>
<circle cx="52.3" cy="502.07" r="1.5" fill="#d0202c"/>
<circle cx="63.34" cy="472.08" r="1.5" fill="#d0202c"/>
<circle cx="74.38" cy="468.49" r="1.5" fill="#d0202c"/>
<circle cx="96.45" cy="488.05" r="1.5" fill="#d0202c"/>
<circle cx="118.52" cy="496.2" r="1.5" fill="#d0202c"/>
<circle cx="140.6" cy="501.09" r="1.5" fill="#d0202c"/>
<text x="144.2" y="502" font-size="5.6" text-anchor="start" font-weight="normal" fill="#e8383c" stroke="#e8383c" stroke-width="0.15">###</text>
<text x="144.6" y="509.6" font-size="8.6" text-anchor="start" font-weight="bold" fill="#111" stroke="#111" stroke-width="0">**</text>
<line x1="194.4" y1="519.8" x2="194.4" y2="455.15" stroke="#111" stroke-width="1.1"/>
<line x1="194.4" y1="519.8" x2="245.5" y2="519.8" stroke="#111" stroke-width="1.1"/>
<line x1="191.9" y1="519.8" x2="194.4" y2="519.8" stroke="#111" stroke-width="1"/>
<text x="190.4" y="523" font-size="8.9" text-anchor="end" font-weight="normal" fill="#111" stroke="#111" stroke-width="0.4">0.0</text>
<line x1="191.9" y1="498.25" x2="194.4" y2="498.25" stroke="#111" stroke-width="1"/>
<text x="190.4" y="501.45" font-size="8.9" text-anchor="end" font-weight="normal" fill="#111" stroke="#111" stroke-width="0.4">0.5</text>
<line x1="191.9" y1="476.7" x2="194.4" y2="476.7" stroke="#111" stroke-width="1"/>
<text x="190.4" y="479.9" font-size="8.9" text-anchor="end" font-weight="normal" fill="#111" stroke="#111" stroke-width="0.4">1.0</text>
<line x1="191.9" y1="455.15" x2="194.4" y2="455.15" stroke="#111" stroke-width="1"/>
<text x="190.4" y="458.35" font-size="8.9" text-anchor="end" font-weight="normal" fill="#111" stroke="#111" stroke-width="0.4">1.5</text>
<line x1="202.2" y1="475.84" x2="202.2" y2="474.98" stroke="#050505" stroke-width="0.8"/>
<line x1="200.7" y1="474.98" x2="203.7" y2="474.98" stroke="#050505" stroke-width="0.8"/>
<rect x="197.6" y="475.84" width="9.2" height="43.96" fill="#050505" stroke="none" stroke-width="1"/>
<line x1="202.2" y1="519.8" x2="202.2" y2="522.3" stroke="#111" stroke-width="1"/>
<line x1="214.3" y1="484.89" x2="214.3" y2="483.16" stroke="#f7941e" stroke-width="0.8"/>
<line x1="212.8" y1="483.16" x2="215.8" y2="483.16" stroke="#f7941e" stroke-width="0.8"/>
<rect x="209.7" y="484.89" width="9.2" height="34.91" fill="#f7941e" stroke="none" stroke-width="1"/>
<line x1="214.3" y1="519.8" x2="214.3" y2="522.3" stroke="#111" stroke-width="1"/>
<line x1="226.2" y1="470.23" x2="226.2" y2="469.37" stroke="#1010fa" stroke-width="0.8"/>
<line x1="224.7" y1="469.37" x2="227.7" y2="469.37" stroke="#1010fa" stroke-width="0.8"/>
<rect x="221.6" y="470.23" width="9.2" height="49.56" fill="#1010fa" stroke="none" stroke-width="1"/>
<line x1="226.2" y1="519.8" x2="226.2" y2="522.3" stroke="#111" stroke-width="1"/>
<line x1="238.3" y1="471.53" x2="238.3" y2="470.23" stroke="#f81414" stroke-width="0.8"/>
<line x1="236.8" y1="470.23" x2="239.8" y2="470.23" stroke="#f81414" stroke-width="0.8"/>
<rect x="233.7" y="471.53" width="9.2" height="48.27" fill="#f81414" stroke="none" stroke-width="1"/>
<line x1="238.3" y1="519.8" x2="238.3" y2="522.3" stroke="#111" stroke-width="1"/>
<text x="176.5" y="486.18" font-size="9.3" text-anchor="middle" font-weight="normal" fill="#111" stroke="#111" stroke-width="0.4" transform="rotate(-90 176.5 486.18)">AUC</text>
<path d="M202.2 474 V472.2 H214.3 V474" stroke="#222" stroke-width="0.8" fill="none"/>
<text x="208.25" y="473.7" font-size="8.6" text-anchor="middle" font-weight="bold" fill="#111" stroke="#111" stroke-width="0">**</text>
<path d="M214.3 464.5 V462.7 H238.3 V464.5" stroke="#222" stroke-width="0.8" fill="none"/>
<text x="226.3" y="461.5" font-size="6" text-anchor="middle" font-weight="normal" fill="#e8383c" stroke="#e8383c" stroke-width="0.15">##</text>
<line x1="294.3" y1="519.4" x2="294.3" y2="454.8" stroke="#111" stroke-width="1.1"/>
<line x1="294.3" y1="519.4" x2="387" y2="519.4" stroke="#111" stroke-width="1.1"/>
<line x1="291.8" y1="519.4" x2="294.3" y2="519.4" stroke="#111" stroke-width="1"/>
<text x="289.7" y="522.5" font-size="8.4" text-anchor="end" font-weight="normal" fill="#111" stroke="#111" stroke-width="0.4">0</text>
<line x1="291.8" y1="508.63" x2="294.3" y2="508.63" stroke="#111" stroke-width="1"/>
<text x="289.7" y="511.73" font-size="8.4" text-anchor="end" font-weight="normal" fill="#111" stroke="#111" stroke-width="0.4">20</text>
<line x1="291.8" y1="497.87" x2="294.3" y2="497.87" stroke="#111" stroke-width="1"/>
<text x="289.7" y="500.97" font-size="8.4" text-anchor="end" font-weight="normal" fill="#111" stroke="#111" stroke-width="0.4">40</text>
<line x1="291.8" y1="487.1" x2="294.3" y2="487.1" stroke="#111" stroke-width="1"/>
<text x="289.7" y="490.2" font-size="8.4" text-anchor="end" font-weight="normal" fill="#111" stroke="#111" stroke-width="0.4">60</text>
<line x1="291.8" y1="476.33" x2="294.3" y2="476.33" stroke="#111" stroke-width="1"/>
<text x="289.7" y="479.43" font-size="8.4" text-anchor="end" font-weight="normal" fill="#111" stroke="#111" stroke-width="0.4">80</text>
<line x1="291.8" y1="465.57" x2="294.3" y2="465.57" stroke="#111" stroke-width="1"/>
<text x="289.7" y="468.67" font-size="8.4" text-anchor="end" font-weight="normal" fill="#111" stroke="#111" stroke-width="0.4">100</text>
<line x1="291.8" y1="454.8" x2="294.3" y2="454.8" stroke="#111" stroke-width="1"/>
<text x="289.7" y="457.9" font-size="8.4" text-anchor="end" font-weight="normal" fill="#111" stroke="#111" stroke-width="0.4">120</text>
<line x1="298.1" y1="519.4" x2="298.1" y2="521.9" stroke="#111" stroke-width="1"/>
<text x="298.1" y="530.6" font-size="9.6" text-anchor="middle" font-weight="normal" fill="#111" stroke="#111" stroke-width="0.4">0</text>
<line x1="319.93" y1="519.4" x2="319.93" y2="521.9" stroke="#111" stroke-width="1"/>
<text x="319.93" y="530.6" font-size="9.6" text-anchor="middle" font-weight="normal" fill="#111" stroke="#111" stroke-width="0.4">30</text>
<line x1="341.75" y1="519.4" x2="341.75" y2="521.9" stroke="#111" stroke-width="1"/>
<text x="341.75" y="530.6" font-size="9.6" text-anchor="middle" font-weight="normal" fill="#111" stroke="#111" stroke-width="0.4">60</text>
<line x1="363.57" y1="519.4" x2="363.57" y2="521.9" stroke="#111" stroke-width="1"/>
<text x="363.57" y="530.6" font-size="9.6" text-anchor="middle" font-weight="normal" fill="#111" stroke="#111" stroke-width="0.4">90</text>
<line x1="385.4" y1="519.4" x2="385.4" y2="521.9" stroke="#111" stroke-width="1"/>
<text x="385.4" y="530.6" font-size="9.6" text-anchor="middle" font-weight="normal" fill="#111" stroke="#111" stroke-width="0.4">120</text>
<text x="339.6" y="541.9" font-size="10.3" text-anchor="middle" font-weight="normal" fill="#111" stroke="#111" stroke-width="0.4">(min)</text>
<text x="272.3" y="484.8" font-size="9.2" text-anchor="middle" font-weight="normal" fill="#111" stroke="#111" stroke-width="0.4" transform="rotate(-90 272.3 484.8)">Blood Glucose(%)</text>
<polyline points="298.1,465.57 309.01,483.87 319.93,494.1 341.75,501.63 363.57,503.25 385.4,497.33" fill="none" stroke="#eaa54a" stroke-width="1.1"/>
<polyline points="298.1,465.57 309.01,480.1 319.93,487.1 341.75,494.64 363.57,496.79 385.4,493.56" fill="none" stroke="#1a1a1a" stroke-width="1.1"/>
<polyline points="298.1,465.57 309.01,476.33 319.93,484.95 341.75,490.87 363.57,494.1 385.4,488.18" fill="none" stroke="#3a2a9a" stroke-width="1.1"/>
<polyline points="298.1,465.57 309.01,476.87 319.93,485.49 341.75,493.56 363.57,494.64 385.4,489.25" fill="none" stroke="#9a1a40" stroke-width="1.1"/>
<circle cx="298.1" cy="465.57" r="1.5" fill="#f0a040"/>
<circle cx="309.01" cy="483.87" r="1.5" fill="#f0a040"/>
<circle cx="319.93" cy="494.1" r="1.5" fill="#f0a040"/>
<circle cx="341.75" cy="501.63" r="1.5" fill="#f0a040"/>
<circle cx="363.57" cy="503.25" r="1.5" fill="#f0a040"/>
<circle cx="385.4" cy="497.33" r="1.5" fill="#f0a040"/>
<circle cx="298.1" cy="465.57" r="1.5" fill="#111111"/>
<circle cx="309.01" cy="480.1" r="1.5" fill="#111111"/>
<circle cx="319.93" cy="487.1" r="1.5" fill="#111111"/>
<circle cx="341.75" cy="494.64" r="1.5" fill="#111111"/>
<circle cx="363.57" cy="496.79" r="1.5" fill="#111111"/>
<circle cx="385.4" cy="493.56" r="1.5" fill="#111111"/>
<circle cx="298.1" cy="465.57" r="1.5" fill="#3030d0"/>
<circle cx="309.01" cy="476.33" r="1.5" fill="#3030d0"/>
<circle cx="319.93" cy="484.95" r="1.5" fill="#3030d0"/>
<circle cx="341.75" cy="490.87" r="1.5" fill="#3030d0"/>
<circle cx="363.57" cy="494.1" r="1.5" fill="#3030d0"/>
<circle cx="385.4" cy="488.18" r="1.5" fill="#3030d0"/>
<circle cx="298.1" cy="465.57" r="1.5" fill="#d0202c"/>
<circle cx="309.01" cy="476.87" r="1.5" fill="#d0202c"/>
<circle cx="319.93" cy="485.49" r="1.5" fill="#d0202c"/>
<circle cx="341.75" cy="493.56" r="1.5" fill="#d0202c"/>
<circle cx="363.57" cy="494.64" r="1.5" fill="#d0202c"/>
<circle cx="385.4" cy="489.25" r="1.5" fill="#d0202c"/>
<text x="388.8" y="491.2" font-size="5.6" text-anchor="start" font-weight="normal" fill="#e8383c" stroke="#e8383c" stroke-width="0.15">###</text>
<text x="388.9" y="500.4" font-size="8.6" text-anchor="start" font-weight="bold" fill="#111" stroke="#111" stroke-width="0">*</text>
<line x1="430.7" y1="519.2" x2="430.7" y2="455.75" stroke="#111" stroke-width="1.1"/>
<line x1="430.7" y1="519.2" x2="481" y2="519.2" stroke="#111" stroke-width="1.1"/>
<line x1="428.2" y1="519.2" x2="430.7" y2="519.2" stroke="#111" stroke-width="1"/>
<text x="426.7" y="522.4" font-size="8.9" text-anchor="end" font-weight="normal" fill="#111" stroke="#111" stroke-width="0.4">0.0</text>
<line x1="428.2" y1="498.05" x2="430.7" y2="498.05" stroke="#111" stroke-width="1"/>
<text x="426.7" y="501.25" font-size="8.9" text-anchor="end" font-weight="normal" fill="#111" stroke="#111" stroke-width="0.4">0.5</text>
<line x1="428.2" y1="476.9" x2="430.7" y2="476.9" stroke="#111" stroke-width="1"/>
<text x="426.7" y="480.1" font-size="8.9" text-anchor="end" font-weight="normal" fill="#111" stroke="#111" stroke-width="0.4">1.0</text>
<line x1="428.2" y1="455.75" x2="430.7" y2="455.75" stroke="#111" stroke-width="1"/>
<text x="426.7" y="458.95" font-size="8.9" text-anchor="end" font-weight="normal" fill="#111" stroke="#111" stroke-width="0.4">1.5</text>
<line x1="438" y1="476.48" x2="438" y2="475.63" stroke="#050505" stroke-width="0.8"/>
<line x1="436.5" y1="475.63" x2="439.5" y2="475.63" stroke="#050505" stroke-width="0.8"/>
<rect x="433.4" y="476.48" width="9.2" height="42.72" fill="#050505" stroke="none" stroke-width="1"/>
<line x1="438" y1="519.2" x2="438" y2="521.7" stroke="#111" stroke-width="1"/>
<line x1="450" y1="484.09" x2="450" y2="483.46" stroke="#f7941e" stroke-width="0.8"/>
<line x1="448.5" y1="483.46" x2="451.5" y2="483.46" stroke="#f7941e" stroke-width="0.8"/>
<rect x="445.4" y="484.09" width="9.2" height="35.11" fill="#f7941e" stroke="none" stroke-width="1"/>
<line x1="450" y1="519.2" x2="450" y2="521.7" stroke="#111" stroke-width="1"/>
<line x1="461.9" y1="470.98" x2="461.9" y2="470.13" stroke="#1010fa" stroke-width="0.8"/>
<line x1="460.4" y1="470.13" x2="463.4" y2="470.13" stroke="#1010fa" stroke-width="0.8"/>
<rect x="457.3" y="470.98" width="9.2" height="48.22" fill="#1010fa" stroke="none" stroke-width="1"/>
<line x1="461.9" y1="519.2" x2="461.9" y2="521.7" stroke="#111" stroke-width="1"/>
<line x1="473.9" y1="472.46" x2="473.9" y2="471.19" stroke="#f81414" stroke-width="0.8"/>
<line x1="472.4" y1="471.19" x2="475.4" y2="471.19" stroke="#f81414" stroke-width="0.8"/>
<rect x="469.3" y="472.46" width="9.2" height="46.74" fill="#f81414" stroke="none" stroke-width="1"/>
<line x1="473.9" y1="519.2" x2="473.9" y2="521.7" stroke="#111" stroke-width="1"/>
<text x="412.5" y="486.21" font-size="9.3" text-anchor="middle" font-weight="normal" fill="#111" stroke="#111" stroke-width="0.4" transform="rotate(-90 412.5 486.21)">AUC</text>
<path d="M438 472.9 V471.1 H450 V472.9" stroke="#222" stroke-width="0.8" fill="none"/>
<text x="444" y="472.6" font-size="8.6" text-anchor="middle" font-weight="bold" fill="#111" stroke="#111" stroke-width="0">**</text>
<path d="M450 463 V461.2 H473.9 V463" stroke="#222" stroke-width="0.8" fill="none"/>
<text x="461.95" y="460" font-size="6" text-anchor="middle" font-weight="normal" fill="#e8383c" stroke="#e8383c" stroke-width="0.15">##</text>
<text x="19" y="568" font-size="18.5" text-anchor="start" font-weight="bold" fill="#000" stroke="#000" stroke-width="0">H</text>
<text x="93.5" y="573.4" font-size="9.4" text-anchor="end" font-weight="normal" fill="#111" stroke="#111" stroke-width="0.4">LKO:</text>
<line x1="106.7" y1="570.2" x2="111.3" y2="570.2" stroke="#111" stroke-width="1"/>
<line x1="119.77" y1="570.2" x2="124.37" y2="570.2" stroke="#111" stroke-width="1"/>
<line x1="132.84" y1="570.2" x2="137.44" y2="570.2" stroke="#111" stroke-width="1"/>
<line x1="145.91" y1="570.2" x2="150.51" y2="570.2" stroke="#111" stroke-width="1"/>
<line x1="148.21" y1="567.9" x2="148.21" y2="572.5" stroke="#111" stroke-width="1"/>
<line x1="158.98" y1="570.2" x2="163.58" y2="570.2" stroke="#111" stroke-width="1"/>
<line x1="161.28" y1="567.9" x2="161.28" y2="572.5" stroke="#111" stroke-width="1"/>
<line x1="172.05" y1="570.2" x2="176.65" y2="570.2" stroke="#111" stroke-width="1"/>
<line x1="174.35" y1="567.9" x2="174.35" y2="572.5" stroke="#111" stroke-width="1"/>
<line x1="185.12" y1="570.2" x2="189.72" y2="570.2" stroke="#111" stroke-width="1"/>
<line x1="198.19" y1="570.2" x2="202.79" y2="570.2" stroke="#111" stroke-width="1"/>
<line x1="211.26" y1="570.2" x2="215.86" y2="570.2" stroke="#111" stroke-width="1"/>
<line x1="224.33" y1="570.2" x2="228.93" y2="570.2" stroke="#111" stroke-width="1"/>
<line x1="226.63" y1="567.9" x2="226.63" y2="572.5" stroke="#111" stroke-width="1"/>
<line x1="237.4" y1="570.2" x2="242" y2="570.2" stroke="#111" stroke-width="1"/>
<line x1="239.7" y1="567.9" x2="239.7" y2="572.5" stroke="#111" stroke-width="1"/>
<line x1="250.47" y1="570.2" x2="255.07" y2="570.2" stroke="#111" stroke-width="1"/>
<line x1="252.77" y1="567.9" x2="252.77" y2="572.5" stroke="#111" stroke-width="1"/>
<text x="93.5" y="586" font-size="9.4" text-anchor="end" font-weight="normal" fill="#111" stroke="#111" stroke-width="0.4">Ad-SHP2:</text>
<line x1="106.7" y1="582.8" x2="111.3" y2="582.8" stroke="#111" stroke-width="1"/>
<line x1="119.77" y1="582.8" x2="124.37" y2="582.8" stroke="#111" stroke-width="1"/>
<line x1="132.84" y1="582.8" x2="137.44" y2="582.8" stroke="#111" stroke-width="1"/>
<line x1="145.91" y1="582.8" x2="150.51" y2="582.8" stroke="#111" stroke-width="1"/>
<line x1="158.98" y1="582.8" x2="163.58" y2="582.8" stroke="#111" stroke-width="1"/>
<line x1="172.05" y1="582.8" x2="176.65" y2="582.8" stroke="#111" stroke-width="1"/>
<line x1="185.12" y1="582.8" x2="189.72" y2="582.8" stroke="#111" stroke-width="1"/>
<line x1="187.42" y1="580.5" x2="187.42" y2="585.1" stroke="#111" stroke-width="1"/>
<line x1="198.19" y1="582.8" x2="202.79" y2="582.8" stroke="#111" stroke-width="1"/>
<line x1="200.49" y1="580.5" x2="200.49" y2="585.1" stroke="#111" stroke-width="1"/>
<line x1="211.26" y1="582.8" x2="215.86" y2="582.8" stroke="#111" stroke-width="1"/>
<line x1="213.56" y1="580.5" x2="213.56" y2="585.1" stroke="#111" stroke-width="1"/>
<line x1="224.33" y1="582.8" x2="228.93" y2="582.8" stroke="#111" stroke-width="1"/>
<line x1="226.63" y1="580.5" x2="226.63" y2="585.1" stroke="#111" stroke-width="1"/>
<line x1="237.4" y1="582.8" x2="242" y2="582.8" stroke="#111" stroke-width="1"/>
<line x1="239.7" y1="580.5" x2="239.7" y2="585.1" stroke="#111" stroke-width="1"/>
<line x1="250.47" y1="582.8" x2="255.07" y2="582.8" stroke="#111" stroke-width="1"/>
<line x1="252.77" y1="580.5" x2="252.77" y2="585.1" stroke="#111" stroke-width="1"/>
<text x="93.5" y="598.4" font-size="9.4" text-anchor="end" font-weight="normal" fill="#111" stroke="#111" stroke-width="0.4">Insulin:</text>
<line x1="106.7" y1="595.2" x2="111.3" y2="595.2" stroke="#111" stroke-width="1"/>
<line x1="119.77" y1="595.2" x2="124.37" y2="595.2" stroke="#111" stroke-width="1"/>
<line x1="122.07" y1="592.9" x2="122.07" y2="597.5" stroke="#111" stroke-width="1"/>
<line x1="132.84" y1="595.2" x2="137.44" y2="595.2" stroke="#111" stroke-width="1"/>
<line x1="135.14" y1="592.9" x2="135.14" y2="597.5" stroke="#111" stroke-width="1"/>
<line x1="145.91" y1="595.2" x2="150.51" y2="595.2" stroke="#111" stroke-width="1"/>
<line x1="158.98" y1="595.2" x2="163.58" y2="595.2" stroke="#111" stroke-width="1"/>
<line x1="161.28" y1="592.9" x2="161.28" y2="597.5" stroke="#111" stroke-width="1"/>
<line x1="172.05" y1="595.2" x2="176.65" y2="595.2" stroke="#111" stroke-width="1"/>
<line x1="174.35" y1="592.9" x2="174.35" y2="597.5" stroke="#111" stroke-width="1"/>
<line x1="185.12" y1="595.2" x2="189.72" y2="595.2" stroke="#111" stroke-width="1"/>
<line x1="198.19" y1="595.2" x2="202.79" y2="595.2" stroke="#111" stroke-width="1"/>
<line x1="200.49" y1="592.9" x2="200.49" y2="597.5" stroke="#111" stroke-width="1"/>
<line x1="211.26" y1="595.2" x2="215.86" y2="595.2" stroke="#111" stroke-width="1"/>
<line x1="213.56" y1="592.9" x2="213.56" y2="597.5" stroke="#111" stroke-width="1"/>
<line x1="224.33" y1="595.2" x2="228.93" y2="595.2" stroke="#111" stroke-width="1"/>
<line x1="237.4" y1="595.2" x2="242" y2="595.2" stroke="#111" stroke-width="1"/>
<line x1="239.7" y1="592.9" x2="239.7" y2="597.5" stroke="#111" stroke-width="1"/>
<line x1="250.47" y1="595.2" x2="255.07" y2="595.2" stroke="#111" stroke-width="1"/>
<line x1="252.77" y1="592.9" x2="252.77" y2="597.5" stroke="#111" stroke-width="1"/>
<rect x="99.8" y="603.7" width="162.2" height="14" fill="#b0b0b0" stroke="#2a2a2a" stroke-width="1"/>
<rect x="120.03" y="609.08" width="9.54" height="3.25" rx="1.62" fill="#0a0a0a" opacity="0.7" filter="url(#bl)"/>
<rect x="132.73" y="609.2" width="9.54" height="3" rx="1.5" fill="#0a0a0a" opacity="0.6" filter="url(#bl)"/>
<rect x="158.66" y="609.33" width="8.48" height="2.75" rx="1.38" fill="#0a0a0a" opacity="0.55" filter="url(#bl)"/>
<rect x="170.83" y="609.08" width="9.54" height="3.25" rx="1.62" fill="#0a0a0a" opacity="0.75" filter="url(#bl)"/>
<rect x="195.97" y="608.83" width="10.07" height="3.75" rx="1.88" fill="#0a0a0a" opacity="0.85" filter="url(#bl)"/>
<rect x="209.19" y="609.2" width="9.01" height="3" rx="1.5" fill="#0a0a0a" opacity="0.65" filter="url(#bl)"/>
<rect x="234.33" y="609.2" width="9.54" height="3" rx="1.5" fill="#0a0a0a" opacity="0.6" filter="url(#bl)"/>
<rect x="246.76" y="609.08" width="10.07" height="3.25" rx="1.62" fill="#0a0a0a" opacity="0.72" filter="url(#bl)"/>
<text x="93.6" y="614.6" font-size="9.35" text-anchor="end" font-weight="normal" fill="#111" stroke="#111" stroke-width="0.4">p-IR</text>
<rect x="99.8" y="621.13" width="162.2" height="14" fill="#aaaaaa" stroke="#2a2a2a" stroke-width="1"/>
<rect x="106.8" y="625.25" width="10.6" height="5.75" rx="2.88" fill="#0a0a0a" opacity="1" filter="url(#bl)"/>
<rect x="119.5" y="625.25" width="10.6" height="5.75" rx="2.88" fill="#0a0a0a" opacity="1" filter="url(#bl)"/>
<rect x="132.2" y="625.25" width="10.6" height="5.75" rx="2.88" fill="#0a0a0a" opacity="1" filter="url(#bl)"/>
<rect x="144.9" y="625.25" width="10.6" height="5.75" rx="2.88" fill="#0a0a0a" opacity="1" filter="url(#bl)"/>
<rect x="157.6" y="625.25" width="10.6" height="5.75" rx="2.88" fill="#0a0a0a" opacity="1" filter="url(#bl)"/>
<rect x="170.3" y="625.25" width="10.6" height="5.75" rx="2.88" fill="#0a0a0a" opacity="1" filter="url(#bl)"/>
<rect x="183" y="625.25" width="10.6" height="5.75" rx="2.88" fill="#0a0a0a" opacity="1" filter="url(#bl)"/>
<rect x="195.7" y="625.25" width="10.6" height="5.75" rx="2.88" fill="#0a0a0a" opacity="1" filter="url(#bl)"/>
<rect x="208.4" y="625.25" width="10.6" height="5.75" rx="2.88" fill="#0a0a0a" opacity="1" filter="url(#bl)"/>
<rect x="221.1" y="625.25" width="10.6" height="5.75" rx="2.88" fill="#0a0a0a" opacity="1" filter="url(#bl)"/>
<rect x="233.8" y="625.25" width="10.6" height="5.75" rx="2.88" fill="#0a0a0a" opacity="1" filter="url(#bl)"/>
<rect x="246.5" y="625.25" width="10.6" height="5.75" rx="2.88" fill="#0a0a0a" opacity="1" filter="url(#bl)"/>
<text x="93.6" y="632.03" font-size="9.35" text-anchor="end" font-weight="normal" fill="#111" stroke="#111" stroke-width="0.4">IR-β</text>
<rect x="99.8" y="638.56" width="162.2" height="14" fill="#a4a4a4" stroke="#2a2a2a" stroke-width="1"/>
<rect x="119.77" y="640.56" width="10.07" height="10" rx="2" fill="#0a0a0a" opacity="0.08" filter="url(#bl2)"/>
<rect x="132.47" y="641.06" width="10.07" height="9" rx="1.8" fill="#0a0a0a" opacity="0.2" filter="url(#bl2)"/>
<rect x="157.86" y="640.06" width="10.07" height="11" rx="2.01" fill="#0a0a0a" opacity="0.32" filter="url(#bl2)"/>
<rect x="170.56" y="640.06" width="10.07" height="11" rx="2.01" fill="#0a0a0a" opacity="0.32" filter="url(#bl2)"/>
<rect x="183.26" y="642.81" width="10.07" height="7.5" rx="1.5" fill="#0a0a0a" opacity="0.15" filter="url(#bl2)"/>
<rect x="195.97" y="640.56" width="10.07" height="10" rx="2" fill="#0a0a0a" opacity="0.12" filter="url(#bl2)"/>
<rect x="208.66" y="640.56" width="10.07" height="10" rx="2" fill="#0a0a0a" opacity="0.14" filter="url(#bl2)"/>
<rect x="234.06" y="640.56" width="10.07" height="10" rx="2" fill="#0a0a0a" opacity="0.1" filter="url(#bl2)"/>
<rect x="246.76" y="640.56" width="10.07" height="10" rx="2" fill="#0a0a0a" opacity="0.12" filter="url(#bl2)"/>
<text x="93.6" y="649.46" font-size="9.35" text-anchor="end" font-weight="normal" fill="#111" stroke="#111" stroke-width="0.4">p-IRS1</text>
<rect x="99.8" y="655.99" width="162.2" height="14" fill="#a0a0a0" stroke="#2a2a2a" stroke-width="1"/>
<rect x="106.8" y="661.24" width="10.6" height="3.5" rx="1.75" fill="#0a0a0a" opacity="0.8" filter="url(#bl)"/>
<rect x="119.5" y="661.24" width="10.6" height="3.5" rx="1.75" fill="#0a0a0a" opacity="0.8" filter="url(#bl)"/>
<rect x="132.2" y="661.24" width="10.6" height="3.5" rx="1.75" fill="#0a0a0a" opacity="0.8" filter="url(#bl)"/>
<rect x="144.9" y="661.24" width="10.6" height="3.5" rx="1.75" fill="#0a0a0a" opacity="0.8" filter="url(#bl)"/>
<rect x="157.6" y="661.24" width="10.6" height="3.5" rx="1.75" fill="#0a0a0a" opacity="0.8" filter="url(#bl)"/>
<rect x="170.3" y="661.24" width="10.6" height="3.5" rx="1.75" fill="#0a0a0a" opacity="0.8" filter="url(#bl)"/>
<rect x="183" y="661.24" width="10.6" height="3.5" rx="1.75" fill="#0a0a0a" opacity="0.8" filter="url(#bl)"/>
<rect x="195.7" y="661.24" width="10.6" height="3.5" rx="1.75" fill="#0a0a0a" opacity="0.8" filter="url(#bl)"/>
<rect x="208.4" y="661.24" width="10.6" height="3.5" rx="1.75" fill="#0a0a0a" opacity="0.8" filter="url(#bl)"/>
<rect x="221.1" y="661.24" width="10.6" height="3.5" rx="1.75" fill="#0a0a0a" opacity="0.8" filter="url(#bl)"/>
<rect x="233.8" y="661.24" width="10.6" height="3.5" rx="1.75" fill="#0a0a0a" opacity="0.8" filter="url(#bl)"/>
<rect x="246.5" y="661.24" width="10.6" height="3.5" rx="1.75" fill="#0a0a0a" opacity="0.8" filter="url(#bl)"/>
<text x="93.6" y="666.89" font-size="9.35" text-anchor="end" font-weight="normal" fill="#111" stroke="#111" stroke-width="0.4">IRS1</text>
<rect x="99.8" y="673.42" width="162.2" height="14" fill="#aaaaaa" stroke="#2a2a2a" stroke-width="1"/>
<rect x="119.77" y="678.67" width="10.07" height="3.5" rx="1.75" fill="#0a0a0a" opacity="0.75" filter="url(#bl)"/>
<rect x="132.47" y="678.67" width="10.07" height="3.5" rx="1.75" fill="#0a0a0a" opacity="0.75" filter="url(#bl)"/>
<rect x="156.01" y="678.22" width="13.78" height="5" rx="2.5" fill="#0a0a0a" opacity="0.95" filter="url(#bl)"/>
<rect x="168.71" y="678.22" width="13.78" height="5" rx="2.5" fill="#0a0a0a" opacity="0.95" filter="url(#bl)"/>
<rect x="196.5" y="678.8" width="9.01" height="3.25" rx="1.62" fill="#0a0a0a" opacity="0.65" filter="url(#bl)"/>
<rect x="209.19" y="678.8" width="9.01" height="3.25" rx="1.62" fill="#0a0a0a" opacity="0.65" filter="url(#bl)"/>
<rect x="234.33" y="678.67" width="9.54" height="3.5" rx="1.75" fill="#0a0a0a" opacity="0.65" filter="url(#bl)"/>
<rect x="247.03" y="678.67" width="9.54" height="3.5" rx="1.75" fill="#0a0a0a" opacity="0.7" filter="url(#bl)"/>
<text x="93.6" y="684.32" font-size="9.35" text-anchor="end" font-weight="normal" fill="#111" stroke="#111" stroke-width="0.4">p-AKT</text>
<rect x="99.8" y="690.85" width="162.2" height="14" fill="#a8a8a8" stroke="#2a2a2a" stroke-width="1"/>
<rect x="106.8" y="695.48" width="10.6" height="4.75" rx="2.38" fill="#0a0a0a" opacity="0.92" filter="url(#bl)"/>
<rect x="119.5" y="695.48" width="10.6" height="4.75" rx="2.38" fill="#0a0a0a" opacity="0.92" filter="url(#bl)"/>
<rect x="132.2" y="695.48" width="10.6" height="4.75" rx="2.38" fill="#0a0a0a" opacity="0.92" filter="url(#bl)"/>
<rect x="144.9" y="695.48" width="10.6" height="4.75" rx="2.38" fill="#0a0a0a" opacity="0.92" filter="url(#bl)"/>
<rect x="157.6" y="695.48" width="10.6" height="4.75" rx="2.38" fill="#0a0a0a" opacity="0.92" filter="url(#bl)"/>
<rect x="170.3" y="695.48" width="10.6" height="4.75" rx="2.38" fill="#0a0a0a" opacity="0.92" filter="url(#bl)"/>
<rect x="183" y="695.48" width="10.6" height="4.75" rx="2.38" fill="#0a0a0a" opacity="0.92" filter="url(#bl)"/>
<rect x="195.7" y="695.48" width="10.6" height="4.75" rx="2.38" fill="#0a0a0a" opacity="0.92" filter="url(#bl)"/>
<rect x="208.4" y="695.48" width="10.6" height="4.75" rx="2.38" fill="#0a0a0a" opacity="0.92" filter="url(#bl)"/>
<rect x="221.1" y="695.48" width="10.6" height="4.75" rx="2.38" fill="#0a0a0a" opacity="0.92" filter="url(#bl)"/>
<rect x="233.8" y="695.48" width="10.6" height="4.75" rx="2.38" fill="#0a0a0a" opacity="0.92" filter="url(#bl)"/>
<rect x="246.5" y="695.48" width="10.6" height="4.75" rx="2.38" fill="#0a0a0a" opacity="0.92" filter="url(#bl)"/>
<text x="93.6" y="701.75" font-size="9.35" text-anchor="end" font-weight="normal" fill="#111" stroke="#111" stroke-width="0.4">AKT</text>
<rect x="99.8" y="708.28" width="162.2" height="14" fill="#acacac" stroke="#2a2a2a" stroke-width="1"/>
<rect x="120.03" y="713.16" width="9.54" height="4.25" rx="2.12" fill="#0a0a0a" opacity="0.65" filter="url(#bl)"/>
<rect x="132.2" y="712.66" width="10.6" height="5.25" rx="2.62" fill="#0a0a0a" opacity="0.85" filter="url(#bl)"/>
<rect x="156.01" y="710.91" width="13.78" height="8.75" rx="4.38" fill="#0a0a0a" opacity="1" filter="url(#bl)"/>
<rect x="168.71" y="710.91" width="13.78" height="8.75" rx="4.38" fill="#0a0a0a" opacity="1" filter="url(#bl)"/>
<rect x="197.03" y="713.28" width="7.95" height="4" rx="2" fill="#0a0a0a" opacity="0.55" filter="url(#bl)"/>
<rect x="209.72" y="713.28" width="7.95" height="4" rx="2" fill="#0a0a0a" opacity="0.6" filter="url(#bl)"/>
<rect x="234.33" y="713.16" width="9.54" height="4.25" rx="2.12" fill="#0a0a0a" opacity="0.65" filter="url(#bl)"/>
<rect x="247.03" y="713.16" width="9.54" height="4.25" rx="2.12" fill="#0a0a0a" opacity="0.7" filter="url(#bl)"/>
<text x="93.6" y="719.18" font-size="9.35" text-anchor="end" font-weight="normal" fill="#111" stroke="#111" stroke-width="0.4">p-GSK3β</text>
<rect x="99.8" y="725.71" width="162.2" height="14" fill="#a6a6a6" stroke="#2a2a2a" stroke-width="1"/>
<rect x="106.8" y="729.34" width="10.6" height="5.75" rx="2.88" fill="#0a0a0a" opacity="0.9" filter="url(#bl)"/>
<rect x="119.5" y="730.31" width="10.6" height="6" rx="3" fill="#0a0a0a" opacity="0.95" filter="url(#bl)"/>
<rect x="132.2" y="730.34" width="10.6" height="5.75" rx="2.88" fill="#0a0a0a" opacity="0.95" filter="url(#bl)"/>
<rect x="144.9" y="730.59" width="10.6" height="5.25" rx="2.62" fill="#0a0a0a" opacity="0.88" filter="url(#bl)"/>
<rect x="157.6" y="730.46" width="10.6" height="5.5" rx="2.75" fill="#0a0a0a" opacity="0.9" filter="url(#bl)"/>
<rect x="170.3" y="730.46" width="10.6" height="5.5" rx="2.75" fill="#0a0a0a" opacity="0.9" filter="url(#bl)"/>
<rect x="183" y="730.38" width="10.6" height="5.25" rx="2.62" fill="#0a0a0a" opacity="0.9" filter="url(#bl)"/>
<rect x="195.7" y="730.34" width="10.6" height="5.75" rx="2.88" fill="#0a0a0a" opacity="0.95" filter="url(#bl)"/>
<rect x="208.4" y="730.13" width="10.6" height="5.75" rx="2.88" fill="#0a0a0a" opacity="0.95" filter="url(#bl)"/>
<rect x="221.1" y="730.59" width="10.6" height="5.25" rx="2.62" fill="#0a0a0a" opacity="0.88" filter="url(#bl)"/>
<rect x="233.8" y="729.21" width="10.6" height="6" rx="3" fill="#0a0a0a" opacity="1" filter="url(#bl)"/>
<rect x="246.5" y="729.79" width="10.6" height="5.25" rx="2.62" fill="#0a0a0a" opacity="0.92" filter="url(#bl)"/>
<text x="93.6" y="736.61" font-size="9.35" text-anchor="end" font-weight="normal" fill="#111" stroke="#111" stroke-width="0.4">GSK3β</text>
<rect x="99.8" y="743.14" width="162.2" height="14" fill="#a8a8a8" stroke="#2a2a2a" stroke-width="1"/>
<rect x="107.33" y="749.14" width="9.54" height="3" rx="1.5" fill="#0a0a0a" opacity="0.6" filter="url(#bl)"/>
<rect x="119.5" y="745.94" width="10.6" height="4" rx="1" fill="#0a0a0a" opacity="0.6" filter="url(#bl)"/>
<rect x="119.5" y="747.39" width="10.6" height="8.5" rx="1.27" fill="#0a0a0a" opacity="0.4" filter="url(#bl2)"/>
<rect x="132.2" y="745.94" width="10.6" height="4" rx="1" fill="#0a0a0a" opacity="0.6" filter="url(#bl)"/>
<rect x="132.2" y="747.39" width="10.6" height="8.5" rx="1.27" fill="#0a0a0a" opacity="0.4" filter="url(#bl2)"/>
<rect x="145.16" y="745.14" width="10.07" height="10" rx="2" fill="#0a0a0a" opacity="0.1" filter="url(#bl2)"/>
<rect x="157.86" y="745.14" width="10.07" height="10" rx="2" fill="#0a0a0a" opacity="0.1" filter="url(#bl2)"/>
<rect x="170.56" y="745.14" width="10.07" height="10" rx="2" fill="#0a0a0a" opacity="0.1" filter="url(#bl2)"/>
<rect x="183.26" y="747.64" width="10.07" height="8" rx="1.6" fill="#0a0a0a" opacity="0.35" filter="url(#bl2)"/>
<rect x="195.7" y="745.94" width="10.6" height="4" rx="1" fill="#0a0a0a" opacity="0.6" filter="url(#bl)"/>
<rect x="195.7" y="747.39" width="10.6" height="8.5" rx="1.27" fill="#0a0a0a" opacity="0.4" filter="url(#bl2)"/>
<rect x="208.4" y="745.94" width="10.6" height="4" rx="1" fill="#0a0a0a" opacity="0.6" filter="url(#bl)"/>
<rect x="208.4" y="747.39" width="10.6" height="8.5" rx="1.27" fill="#0a0a0a" opacity="0.4" filter="url(#bl2)"/>
<rect x="221.36" y="745.14" width="10.07" height="10" rx="2" fill="#0a0a0a" opacity="0.08" filter="url(#bl2)"/>
<rect x="234.06" y="745.14" width="10.07" height="10" rx="2" fill="#0a0a0a" opacity="0.08" filter="url(#bl2)"/>
<rect x="246.76" y="745.14" width="10.07" height="10" rx="2" fill="#0a0a0a" opacity="0.12" filter="url(#bl2)"/>
<text x="93.6" y="754.04" font-size="9.35" text-anchor="end" font-weight="normal" fill="#111" stroke="#111" stroke-width="0.4">AF6</text>
<rect x="99.8" y="760.57" width="162.2" height="14" fill="#acacac" stroke="#2a2a2a" stroke-width="1"/>
<rect x="107.33" y="766.32" width="9.54" height="2.5" rx="1.25" fill="#0a0a0a" opacity="0.75" filter="url(#bl)"/>
<rect x="120.03" y="766.32" width="9.54" height="2.5" rx="1.25" fill="#0a0a0a" opacity="0.75" filter="url(#bl)"/>
<rect x="132.73" y="766.2" width="9.54" height="2.75" rx="1.38" fill="#0a0a0a" opacity="0.78" filter="url(#bl)"/>
<rect x="145.43" y="766.2" width="9.54" height="2.75" rx="1.38" fill="#0a0a0a" opacity="0.78" filter="url(#bl)"/>
<rect x="157.86" y="766.07" width="10.07" height="3" rx="1.5" fill="#0a0a0a" opacity="0.82" filter="url(#bl)"/>
<rect x="170.56" y="765.82" width="10.07" height="3.5" rx="1.75" fill="#0a0a0a" opacity="0.88" filter="url(#bl)"/>
<rect x="182.58" y="763.7" width="11.45" height="7.75" rx="2.32" fill="#0a0a0a" opacity="1" filter="url(#bl)"/>
<rect x="195.44" y="764.07" width="11.13" height="7" rx="2.1" fill="#0a0a0a" opacity="1" filter="url(#bl)"/>
<rect x="208.13" y="764.07" width="11.13" height="7" rx="2.1" fill="#0a0a0a" opacity="1" filter="url(#bl)"/>
<rect x="220.83" y="764.32" width="11.13" height="6.5" rx="1.95" fill="#0a0a0a" opacity="1" filter="url(#bl)"/>
<rect x="233.53" y="763.95" width="11.13" height="7.25" rx="2.17" fill="#0a0a0a" opacity="1" filter="url(#bl)"/>
<rect x="246.5" y="764.32" width="10.6" height="6.5" rx="1.95" fill="#0a0a0a" opacity="1" filter="url(#bl)"/>
<text x="93.6" y="771.47" font-size="9.35" text-anchor="end" font-weight="normal" fill="#111" stroke="#111" stroke-width="0.4">SHP2</text>
<rect x="99.8" y="778" width="162.2" height="14" fill="#acacac" stroke="#2a2a2a" stroke-width="1"/>
<rect x="106.8" y="783" width="10.6" height="4" rx="2" fill="#0a0a0a" opacity="0.95" filter="url(#bl)"/>
<rect x="119.5" y="783" width="10.6" height="4" rx="2" fill="#0a0a0a" opacity="0.95" filter="url(#bl)"/>
<rect x="132.2" y="783" width="10.6" height="4" rx="2" fill="#0a0a0a" opacity="0.95" filter="url(#bl)"/>
<rect x="144.9" y="783" width="10.6" height="4" rx="2" fill="#0a0a0a" opacity="0.95" filter="url(#bl)"/>
<rect x="157.6" y="783" width="10.6" height="4" rx="2" fill="#0a0a0a" opacity="0.95" filter="url(#bl)"/>
<rect x="170.3" y="783" width="10.6" height="4" rx="2" fill="#0a0a0a" opacity="0.95" filter="url(#bl)"/>
<rect x="183" y="783" width="10.6" height="4" rx="2" fill="#0a0a0a" opacity="0.95" filter="url(#bl)"/>
<rect x="195.7" y="783" width="10.6" height="4" rx="2" fill="#0a0a0a" opacity="0.95" filter="url(#bl)"/>
<rect x="208.4" y="783" width="10.6" height="4" rx="2" fill="#0a0a0a" opacity="0.95" filter="url(#bl)"/>
<rect x="221.1" y="783" width="10.6" height="4" rx="2" fill="#0a0a0a" opacity="0.95" filter="url(#bl)"/>
<rect x="233.8" y="783" width="10.6" height="4" rx="2" fill="#0a0a0a" opacity="0.95" filter="url(#bl)"/>
<rect x="246.5" y="783" width="10.6" height="4" rx="2" fill="#0a0a0a" opacity="0.95" filter="url(#bl)"/>
<text x="93.6" y="788.9" font-size="9.35" text-anchor="end" font-weight="normal" fill="#111" stroke="#111" stroke-width="0.4">HSP90</text>
<rect x="348.6" y="596" width="4.8" height="4.8" fill="#fff" stroke="#111" stroke-width="1.2"/>
<text x="358.5" y="601.7" font-size="9.3" text-anchor="start" font-weight="normal" fill="#111" stroke="#111" stroke-width="0.4">fl/fl+Ad-null</text>
<rect x="348.6" y="605.6" width="4.8" height="4.8" fill="#6c6c6c" stroke="#222" stroke-width="1.2"/>
<text x="358.5" y="611.3" font-size="9.3" text-anchor="start" font-weight="normal" fill="#111" stroke="#111" stroke-width="0.4">LKO+Ad-null</text>
<rect x="348" y="614.6" width="6" height="6" fill="#0a0a0a" stroke="none" stroke-width="1"/>
<text x="358.5" y="620.9" font-size="9.3" text-anchor="start" font-weight="normal" fill="#111" stroke="#111" stroke-width="0.4">fl/fl+Ad-SHP2</text>
<rect x="348.6" y="624.6" width="4.8" height="4.8" fill="url(#hatch2)" stroke="#111" stroke-width="1.2"/>
<text x="358.5" y="630.3" font-size="9.3" text-anchor="start" font-weight="normal" fill="#111" stroke="#111" stroke-width="0.4">LKO+Ad-SHP2</text>
<line x1="328.7" y1="716.8" x2="328.7" y2="638.1" stroke="#111" stroke-width="1.1"/>
<line x1="326.2" y1="716.3" x2="328.7" y2="716.3" stroke="#111" stroke-width="1"/>
<text x="324.7" y="719.14" font-size="7.9" text-anchor="end" font-weight="normal" fill="#111" stroke="#111" stroke-width="0.4">0</text>
<line x1="326.2" y1="690.4" x2="328.7" y2="690.4" stroke="#111" stroke-width="1"/>
<text x="324.7" y="693.24" font-size="7.9" text-anchor="end" font-weight="normal" fill="#111" stroke="#111" stroke-width="0.4">1</text>
<line x1="326.2" y1="664.5" x2="328.7" y2="664.5" stroke="#111" stroke-width="1"/>
<text x="324.7" y="667.34" font-size="7.9" text-anchor="end" font-weight="normal" fill="#111" stroke="#111" stroke-width="0.4">2</text>
<line x1="326.2" y1="638.6" x2="328.7" y2="638.6" stroke="#111" stroke-width="1"/>
<text x="324.7" y="641.44" font-size="7.9" text-anchor="end" font-weight="normal" fill="#111" stroke="#111" stroke-width="0.4">3</text>
<line x1="328.7" y1="716.3" x2="443.5" y2="716.3" stroke="#111" stroke-width="1.1"/>
<text x="312.5" y="677.5" font-size="9" text-anchor="middle" font-weight="normal" fill="#111" stroke="#111" stroke-width="0.4" transform="rotate(-90 312.5 677.5)">Arbitrary units</text>
<line x1="336.05" y1="689.1" x2="336.05" y2="687.81" stroke="#111" stroke-width="0.8"/>
<line x1="334.55" y1="687.81" x2="337.55" y2="687.81" stroke="#111" stroke-width="0.8"/>
<rect x="333.5" y="689.6" width="5.1" height="26.7" fill="#fff" stroke="#111" stroke-width="0.9"/>
<line x1="342.15" y1="692.47" x2="342.15" y2="690.4" stroke="#111" stroke-width="0.8"/>
<line x1="340.65" y1="690.4" x2="343.65" y2="690.4" stroke="#111" stroke-width="0.8"/>
<rect x="339.5" y="692.87" width="5.3" height="23.43" fill="#6c6c6c" stroke="#1a1a1a" stroke-width="0.8"/>
<line x1="348.25" y1="691.18" x2="348.25" y2="689.88" stroke="#111" stroke-width="0.8"/>
<line x1="346.75" y1="689.88" x2="349.75" y2="689.88" stroke="#111" stroke-width="0.8"/>
<rect x="345.2" y="691.18" width="6.1" height="25.12" fill="#0a0a0a" stroke="none" stroke-width="1"/>
<line x1="354.35" y1="691.18" x2="354.35" y2="689.88" stroke="#111" stroke-width="0.8"/>
<line x1="352.85" y1="689.88" x2="355.85" y2="689.88" stroke="#111" stroke-width="0.8"/>
<rect x="351.8" y="691.68" width="5.1" height="24.62" fill="url(#hatch)" stroke="#111" stroke-width="0.9"/>
<line x1="345.2" y1="716.3" x2="345.2" y2="718.8" stroke="#111" stroke-width="1"/>
<line x1="363.85" y1="690.4" x2="363.85" y2="689.11" stroke="#111" stroke-width="0.8"/>
<line x1="362.35" y1="689.11" x2="365.35" y2="689.11" stroke="#111" stroke-width="0.8"/>
<rect x="361.3" y="690.9" width="5.1" height="25.4" fill="#fff" stroke="#111" stroke-width="0.9"/>
<line x1="369.95" y1="670.97" x2="369.95" y2="668.38" stroke="#111" stroke-width="0.8"/>
<line x1="368.45" y1="668.38" x2="371.45" y2="668.38" stroke="#111" stroke-width="0.8"/>
<rect x="367.3" y="671.37" width="5.3" height="44.93" fill="#6c6c6c" stroke="#1a1a1a" stroke-width="0.8"/>
<line x1="376.05" y1="695.58" x2="376.05" y2="695.06" stroke="#111" stroke-width="0.8"/>
<line x1="374.55" y1="695.06" x2="377.55" y2="695.06" stroke="#111" stroke-width="0.8"/>
<rect x="373" y="695.58" width="6.1" height="20.72" fill="#0a0a0a" stroke="none" stroke-width="1"/>
<line x1="382.15" y1="695.06" x2="382.15" y2="694.28" stroke="#111" stroke-width="0.8"/>
<line x1="380.65" y1="694.28" x2="383.65" y2="694.28" stroke="#111" stroke-width="0.8"/>
<rect x="379.6" y="695.56" width="5.1" height="20.74" fill="url(#hatch)" stroke="#111" stroke-width="0.9"/>
<line x1="373" y1="716.3" x2="373" y2="718.8" stroke="#111" stroke-width="1"/>
<line x1="392.45" y1="690.4" x2="392.45" y2="689.88" stroke="#111" stroke-width="0.8"/>
<line x1="390.95" y1="689.88" x2="393.95" y2="689.88" stroke="#111" stroke-width="0.8"/>
<rect x="389.9" y="690.9" width="5.1" height="25.4" fill="#fff" stroke="#111" stroke-width="0.9"/>
<line x1="398.55" y1="673.05" x2="398.55" y2="670.97" stroke="#111" stroke-width="0.8"/>
<line x1="397.05" y1="670.97" x2="400.05" y2="670.97" stroke="#111" stroke-width="0.8"/>
<rect x="395.9" y="673.45" width="5.3" height="42.85" fill="#6c6c6c" stroke="#1a1a1a" stroke-width="0.8"/>
<line x1="404.65" y1="696.88" x2="404.65" y2="696.1" stroke="#111" stroke-width="0.8"/>
<line x1="403.15" y1="696.1" x2="406.15" y2="696.1" stroke="#111" stroke-width="0.8"/>
<rect x="401.6" y="696.88" width="6.1" height="19.42" fill="#0a0a0a" stroke="none" stroke-width="1"/>
<line x1="410.75" y1="691.69" x2="410.75" y2="690.66" stroke="#111" stroke-width="0.8"/>
<line x1="409.25" y1="690.66" x2="412.25" y2="690.66" stroke="#111" stroke-width="0.8"/>
<rect x="408.2" y="692.19" width="5.1" height="24.11" fill="url(#hatch)" stroke="#111" stroke-width="0.9"/>
<line x1="401.6" y1="716.3" x2="401.6" y2="718.8" stroke="#111" stroke-width="1"/>
<line x1="421.45" y1="688.33" x2="421.45" y2="687.03" stroke="#111" stroke-width="0.8"/>
<line x1="419.95" y1="687.03" x2="422.95" y2="687.03" stroke="#111" stroke-width="0.8"/>
<rect x="418.9" y="688.83" width="5.1" height="27.47" fill="#fff" stroke="#111" stroke-width="0.9"/>
<line x1="427.55" y1="659.32" x2="427.55" y2="655.43" stroke="#111" stroke-width="0.8"/>
<line x1="426.05" y1="655.43" x2="429.05" y2="655.43" stroke="#111" stroke-width="0.8"/>
<rect x="424.9" y="659.72" width="5.3" height="56.58" fill="#6c6c6c" stroke="#1a1a1a" stroke-width="0.8"/>
<line x1="433.65" y1="698.95" x2="433.65" y2="698.17" stroke="#111" stroke-width="0.8"/>
<line x1="432.15" y1="698.17" x2="435.15" y2="698.17" stroke="#111" stroke-width="0.8"/>
<rect x="430.6" y="698.95" width="6.1" height="17.35" fill="#0a0a0a" stroke="none" stroke-width="1"/>
<line x1="439.75" y1="694.28" x2="439.75" y2="693.25" stroke="#111" stroke-width="0.8"/>
<line x1="438.25" y1="693.25" x2="441.25" y2="693.25" stroke="#111" stroke-width="0.8"/>
<rect x="437.2" y="694.78" width="5.1" height="21.51" fill="url(#hatch)" stroke="#111" stroke-width="0.9"/>
<line x1="430.6" y1="716.3" x2="430.6" y2="718.8" stroke="#111" stroke-width="1"/>
<text x="349" y="725.9" font-size="8.8" text-anchor="end" font-weight="normal" fill="#111" stroke="#111" stroke-width="0.4" transform="rotate(-45 349 725.9)">p-IR</text>
<text x="376.8" y="725.9" font-size="8.8" text-anchor="end" font-weight="normal" fill="#111" stroke="#111" stroke-width="0.4" transform="rotate(-45 376.8 725.9)">p-IRS1</text>
<text x="405.4" y="725.9" font-size="8.8" text-anchor="end" font-weight="normal" fill="#111" stroke="#111" stroke-width="0.4" transform="rotate(-45 405.4 725.9)">p-AKT</text>
<text x="434.4" y="725.9" font-size="8.8" text-anchor="end" font-weight="normal" fill="#111" stroke="#111" stroke-width="0.4" transform="rotate(-45 434.4 725.9)">p-GSK3β</text>
<path d="M363.85 663.8 V662 H369.95 V663.8" stroke="#222" stroke-width="0.8" fill="none"/>
<text x="366.9" y="663.5" font-size="8.6" text-anchor="middle" font-weight="bold" fill="#111" stroke="#111" stroke-width="0">*</text>
<path d="M369.95 660.3 V658.5 H382.15 V660.3" stroke="#222" stroke-width="0.8" fill="none"/>
<text x="376.05" y="657.3" font-size="6" text-anchor="middle" font-weight="normal" fill="#e8383c" stroke="#e8383c" stroke-width="0.15">#</text>
<path d="M392.45 668.5 V666.7 H398.55 V668.5" stroke="#222" stroke-width="0.8" fill="none"/>
<text x="395.5" y="668.2" font-size="8.6" text-anchor="middle" font-weight="bold" fill="#111" stroke="#111" stroke-width="0">*</text>
<path d="M398.55 665 V663.2 H410.75 V665" stroke="#222" stroke-width="0.8" fill="none"/>
<text x="404.65" y="662" font-size="6" text-anchor="middle" font-weight="normal" fill="#e8383c" stroke="#e8383c" stroke-width="0.15">#</text>
<path d="M392.45 657.8 V656 H404.65 V657.8" stroke="#222" stroke-width="0.8" fill="none"/>
<text x="398.55" y="657.5" font-size="8.6" text-anchor="middle" font-weight="bold" fill="#111" stroke="#111" stroke-width="0">*</text>
<path d="M421.45 652.6 V650.8 H427.55 V652.6" stroke="#222" stroke-width="0.8" fill="none"/>
<text x="424.5" y="652.3" font-size="8.6" text-anchor="middle" font-weight="bold" fill="#111" stroke="#111" stroke-width="0">*</text>
<path d="M427.55 649.1 V647.3 H439.75 V649.1" stroke="#222" stroke-width="0.8" fill="none"/>
<text x="433.65" y="646.1" font-size="6" text-anchor="middle" font-weight="normal" fill="#e8383c" stroke="#e8383c" stroke-width="0.15">#</text>
<path d="M421.45 642.5 V640.7 H433.65 V642.5" stroke="#222" stroke-width="0.8" fill="none"/>
<text x="427.55" y="642.2" font-size="8.6" text-anchor="middle" font-weight="bold" fill="#111" stroke="#111" stroke-width="0">*</text>
</svg>
</body></html>
